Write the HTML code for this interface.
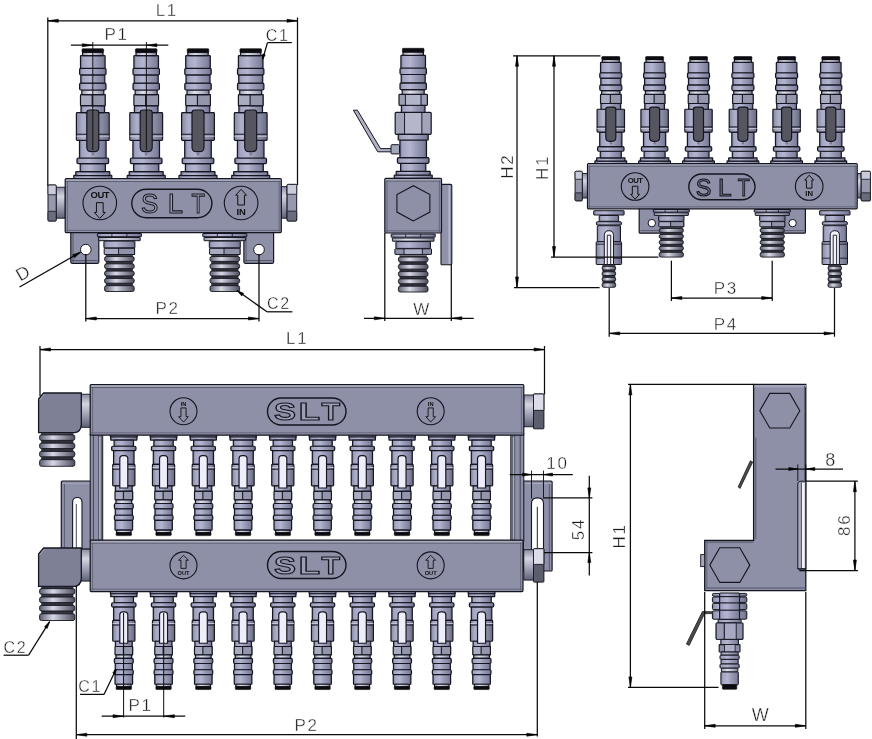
<!DOCTYPE html>
<html><head><meta charset="utf-8"><title>SLT manifold dimensions</title>
<style>
html,body{margin:0;padding:0;background:#fff;}
svg{display:block;font-family:"Liberation Sans",sans-serif;}
svg{will-change:transform;}
text.d{stroke:#fff;stroke-width:0.35px;letter-spacing:1.7px;}
</style></head><body>
<svg width="872" height="739" viewBox="0 0 872 739">
<rect x="0" y="0" width="872" height="739" fill="#ffffff"/>
<defs>
<linearGradient id="gv" x1="0" y1="0" x2="1" y2="0">
<stop offset="0" stop-color="#787a96"/><stop offset="0.1" stop-color="#a2a4c2"/>
<stop offset="0.38" stop-color="#b4b6d0"/><stop offset="0.6" stop-color="#9a9cb8"/>
<stop offset="0.9" stop-color="#80829e"/><stop offset="1" stop-color="#666882"/>
</linearGradient>
<linearGradient id="gl" x1="0" y1="0" x2="1" y2="0">
<stop offset="0" stop-color="#9a9cb2"/><stop offset="0.35" stop-color="#e0e1ea"/>
<stop offset="0.7" stop-color="#b6b8ca"/><stop offset="1" stop-color="#7c7e94"/>
</linearGradient>
<linearGradient id="gn" x1="0" y1="0" x2="1" y2="0">
<stop offset="0" stop-color="#8688a2"/><stop offset="0.2" stop-color="#aeb0ca"/>
<stop offset="0.5" stop-color="#9c9eb8"/><stop offset="0.8" stop-color="#86889f"/>
<stop offset="1" stop-color="#686a82"/>
</linearGradient>
<linearGradient id="gb" x1="0" y1="0" x2="1" y2="0">
<stop offset="0" stop-color="#5c5c6c"/><stop offset="0.16" stop-color="#9496a8"/>
<stop offset="0.38" stop-color="#d8d9e4"/><stop offset="0.6" stop-color="#a2a4b6"/>
<stop offset="0.85" stop-color="#70707e"/><stop offset="1" stop-color="#4c4c5a"/>
</linearGradient>
<linearGradient id="gh" x1="0" y1="0" x2="0" y2="1">
<stop offset="0" stop-color="#8a8ca2"/><stop offset="0.3" stop-color="#d4d5e0"/>
<stop offset="0.6" stop-color="#a2a4b8"/><stop offset="1" stop-color="#5e6074"/>
</linearGradient>
</defs>
<rect x="56.2" y="187.2" width="9" height="31" fill="url(#gh)" stroke="#161622" stroke-width="0.9"/>
<rect x="48" y="185" width="8.2" height="36" fill="#9698ae" stroke="#161622" stroke-width="1" rx="1"/>
<rect x="48" y="185" width="8.2" height="9.72" fill="#c9cada" stroke="#161622" stroke-width="0.8" rx="1"/>
<rect x="48" y="211.28" width="8.2" height="9.72" fill="#6a6c7e" stroke="#161622" stroke-width="0.8" rx="1"/>
<rect x="281.3" y="186.6" width="5.8" height="31.6" fill="url(#gh)" stroke="#161622" stroke-width="0.9"/>
<rect x="287.1" y="184.4" width="9.6" height="36.6" fill="#9698ae" stroke="#161622" stroke-width="1" rx="1"/>
<rect x="287.1" y="184.4" width="9.6" height="9.88" fill="#c9cada" stroke="#161622" stroke-width="0.8" rx="1"/>
<rect x="287.1" y="211.12" width="9.6" height="9.88" fill="#6a6c7e" stroke="#161622" stroke-width="0.8" rx="1"/>
<rect x="70.8" y="230" width="28" height="33.3" fill="#8e90a8" stroke="#161622" stroke-width="1.2" rx="1.2"/>
<line x1="71.8" y1="260.6" x2="97.8" y2="260.6" stroke="#4a4c5e" stroke-width="0.9"/>
<line x1="73" y1="232" x2="73" y2="262" stroke="#4a4c5e" stroke-width="0.8"/>
<circle cx="85.8" cy="249.6" r="5.3" fill="#fff" stroke="#161622" stroke-width="1"/>
<rect x="243.9" y="230" width="29.7" height="33.3" fill="#8e90a8" stroke="#161622" stroke-width="1.2" rx="1.2"/>
<line x1="244.9" y1="260.6" x2="272.6" y2="260.6" stroke="#4a4c5e" stroke-width="0.9"/>
<line x1="246.1" y1="232" x2="246.1" y2="262" stroke="#4a4c5e" stroke-width="0.8"/>
<circle cx="259" cy="249.6" r="5.3" fill="#fff" stroke="#161622" stroke-width="1"/>
<rect x="97.4" y="233.5" width="44" height="3.2" fill="url(#gv)" stroke="#161622" stroke-width="1" rx="0.3"/>
<line x1="111.9" y1="233.5" x2="111.9" y2="236.7" stroke="#161622" stroke-width="0.8"/>
<line x1="126.9" y1="233.5" x2="126.9" y2="236.7" stroke="#161622" stroke-width="0.8"/>
<rect x="98.6" y="237.5" width="41.6" height="3.2" fill="url(#gl)" stroke="#161622" stroke-width="1" rx="0.3"/>
<rect x="103.9" y="241.1" width="31" height="6.8" fill="url(#gv)" stroke="#161622" stroke-width="1" rx="0.5"/>
<rect x="104.2" y="248.3" width="30.4" height="6.2" fill="#a9abc0" stroke="#161622" stroke-width="1" rx="0.5"/>
<rect x="118.6" y="248.3" width="16" height="6.2" fill="#9092a8" stroke="#161622" stroke-width="0.9"/>
<rect x="106.08" y="255.1" width="26.64" height="34.4" fill="#32323e" stroke="#32323e" stroke-width="0.5"/>
<rect x="104.6" y="256.56" width="29.6" height="4.8" fill="url(#gb)" stroke="#16161e" stroke-width="0.9" rx="1.8"/>
<rect x="104.6" y="263.84" width="29.6" height="4.8" fill="url(#gb)" stroke="#16161e" stroke-width="0.9" rx="1.8"/>
<rect x="104.6" y="271.12" width="29.6" height="4.8" fill="url(#gb)" stroke="#16161e" stroke-width="0.9" rx="1.8"/>
<rect x="104.6" y="278.4" width="29.6" height="4.8" fill="url(#gb)" stroke="#16161e" stroke-width="0.9" rx="1.8"/>
<rect x="104.6" y="285.68" width="29.6" height="5.82" fill="url(#gb)" stroke="#16161e" stroke-width="0.9" rx="1.8"/>
<rect x="202.8" y="233.5" width="44" height="3.2" fill="url(#gv)" stroke="#161622" stroke-width="1" rx="0.3"/>
<line x1="217.3" y1="233.5" x2="217.3" y2="236.7" stroke="#161622" stroke-width="0.8"/>
<line x1="232.3" y1="233.5" x2="232.3" y2="236.7" stroke="#161622" stroke-width="0.8"/>
<rect x="204" y="237.5" width="41.6" height="3.2" fill="url(#gl)" stroke="#161622" stroke-width="1" rx="0.3"/>
<rect x="209.3" y="241.1" width="31" height="6.8" fill="url(#gv)" stroke="#161622" stroke-width="1" rx="0.5"/>
<rect x="209.6" y="248.3" width="30.4" height="6.2" fill="#a9abc0" stroke="#161622" stroke-width="1" rx="0.5"/>
<rect x="224" y="248.3" width="16" height="6.2" fill="#9092a8" stroke="#161622" stroke-width="0.9"/>
<rect x="211.48" y="255.1" width="26.64" height="34.4" fill="#32323e" stroke="#32323e" stroke-width="0.5"/>
<rect x="210" y="256.56" width="29.6" height="4.8" fill="url(#gb)" stroke="#16161e" stroke-width="0.9" rx="1.8"/>
<rect x="210" y="263.84" width="29.6" height="4.8" fill="url(#gb)" stroke="#16161e" stroke-width="0.9" rx="1.8"/>
<rect x="210" y="271.12" width="29.6" height="4.8" fill="url(#gb)" stroke="#16161e" stroke-width="0.9" rx="1.8"/>
<rect x="210" y="278.4" width="29.6" height="4.8" fill="url(#gb)" stroke="#16161e" stroke-width="0.9" rx="1.8"/>
<rect x="210" y="285.68" width="29.6" height="5.82" fill="url(#gb)" stroke="#16161e" stroke-width="0.9" rx="1.8"/>
<rect x="73.8" y="175.4" width="38" height="3.3" fill="url(#gv)" stroke="#161622" stroke-width="1.2" rx="0.3"/>
<rect x="75.8" y="171.7" width="34" height="3.9" fill="url(#gv)" stroke="#161622" stroke-width="1.2" rx="0.3"/>
<rect x="80.2" y="163.7" width="25.2" height="8" fill="url(#gv)" stroke="#161622" stroke-width="1.2" rx="0.6"/>
<rect x="77" y="158" width="31.6" height="5.7" fill="url(#gv)" stroke="#161622" stroke-width="1.2" rx="1.2"/>
<rect x="79.5" y="140.4" width="26.6" height="17.6" fill="url(#gv)" stroke="#161622" stroke-width="1.2" rx="0.6"/>
<rect x="76.4" y="112.7" width="32.8" height="27.7" fill="url(#gn)" stroke="#161622" stroke-width="1.2" rx="0.8"/>
<line x1="76.4" y1="134.2" x2="109.2" y2="134.2" stroke="#161622" stroke-width="1.08"/>
<line x1="76.4" y1="136.2" x2="109.2" y2="136.2" stroke="#c8c8d8" stroke-width="0.96"/>
<rect x="81" y="105.7" width="23.6" height="7" fill="url(#gv)" stroke="#161622" stroke-width="1.2" rx="0.6"/>
<rect x="80.5" y="94.7" width="24.6" height="11" fill="#a9abc0" stroke="#161622" stroke-width="1.2" rx="0.6"/>
<rect x="92.2" y="94.7" width="12.9" height="11" fill="#9496ac" stroke="#161622" stroke-width="1.08"/>
<rect x="81.8" y="90" width="22" height="4.7" fill="url(#gl)" stroke="#161622" stroke-width="1.2" rx="0.6"/>
<rect x="79.6" y="83.2" width="26.4" height="6.8" fill="url(#gv)" stroke="#161622" stroke-width="1.2" rx="1.2"/>
<rect x="80.8" y="74.9" width="24" height="8.3" fill="url(#gv)" stroke="#161622" stroke-width="1.2" rx="0.6"/>
<rect x="79.6" y="68.4" width="26.4" height="6.5" fill="url(#gv)" stroke="#161622" stroke-width="1.2" rx="1.2"/>
<rect x="80.5" y="55.7" width="24.6" height="12.7" fill="url(#gv)" stroke="#161622" stroke-width="1.2" rx="0.6"/>
<rect x="82.6" y="52.2" width="20.4" height="3.5" fill="url(#gl)" stroke="#161622" stroke-width="1.2" rx="0.6"/>
<rect x="82" y="48.7" width="21.6" height="3.9" fill="#0c0c10" stroke="#0c0c10" stroke-width="0.6" rx="0.8"/>
<path d="M86.8 112.7 Q86.8 110 89.5 110 L96.1 110 Q98.8 110 98.8 112.7 L98.8 147.2 Q98.8 151.7 94.3 151.7 L91.3 151.7 Q86.8 151.7 86.8 147.2 Z" fill="#55565f" stroke="#161622" stroke-width="1.2"/>
<circle cx="92.8" cy="154" r="0.9" fill="#ddd" stroke="#161622" stroke-width="0.5"/>
<rect x="127.2" y="175.4" width="38" height="3.3" fill="url(#gv)" stroke="#161622" stroke-width="1.2" rx="0.3"/>
<rect x="129.2" y="171.7" width="34" height="3.9" fill="url(#gv)" stroke="#161622" stroke-width="1.2" rx="0.3"/>
<rect x="133.6" y="163.7" width="25.2" height="8" fill="url(#gv)" stroke="#161622" stroke-width="1.2" rx="0.6"/>
<rect x="130.4" y="158" width="31.6" height="5.7" fill="url(#gv)" stroke="#161622" stroke-width="1.2" rx="1.2"/>
<rect x="132.9" y="140.4" width="26.6" height="17.6" fill="url(#gv)" stroke="#161622" stroke-width="1.2" rx="0.6"/>
<rect x="129.8" y="112.7" width="32.8" height="27.7" fill="url(#gn)" stroke="#161622" stroke-width="1.2" rx="0.8"/>
<line x1="129.8" y1="134.2" x2="162.6" y2="134.2" stroke="#161622" stroke-width="1.08"/>
<line x1="129.8" y1="136.2" x2="162.6" y2="136.2" stroke="#c8c8d8" stroke-width="0.96"/>
<rect x="134.4" y="105.7" width="23.6" height="7" fill="url(#gv)" stroke="#161622" stroke-width="1.2" rx="0.6"/>
<rect x="133.9" y="94.7" width="24.6" height="11" fill="#a9abc0" stroke="#161622" stroke-width="1.2" rx="0.6"/>
<rect x="145.6" y="94.7" width="12.9" height="11" fill="#9496ac" stroke="#161622" stroke-width="1.08"/>
<rect x="135.2" y="90" width="22" height="4.7" fill="url(#gl)" stroke="#161622" stroke-width="1.2" rx="0.6"/>
<rect x="133" y="83.2" width="26.4" height="6.8" fill="url(#gv)" stroke="#161622" stroke-width="1.2" rx="1.2"/>
<rect x="134.2" y="74.9" width="24" height="8.3" fill="url(#gv)" stroke="#161622" stroke-width="1.2" rx="0.6"/>
<rect x="133" y="68.4" width="26.4" height="6.5" fill="url(#gv)" stroke="#161622" stroke-width="1.2" rx="1.2"/>
<rect x="133.9" y="55.7" width="24.6" height="12.7" fill="url(#gv)" stroke="#161622" stroke-width="1.2" rx="0.6"/>
<rect x="136" y="52.2" width="20.4" height="3.5" fill="url(#gl)" stroke="#161622" stroke-width="1.2" rx="0.6"/>
<rect x="135.4" y="48.7" width="21.6" height="3.9" fill="#0c0c10" stroke="#0c0c10" stroke-width="0.6" rx="0.8"/>
<path d="M140.2 112.7 Q140.2 110 142.9 110 L149.5 110 Q152.2 110 152.2 112.7 L152.2 147.2 Q152.2 151.7 147.7 151.7 L144.7 151.7 Q140.2 151.7 140.2 147.2 Z" fill="#55565f" stroke="#161622" stroke-width="1.2"/>
<circle cx="146.2" cy="154" r="0.9" fill="#ddd" stroke="#161622" stroke-width="0.5"/>
<rect x="179" y="175.4" width="38" height="3.3" fill="url(#gv)" stroke="#161622" stroke-width="1.2" rx="0.3"/>
<rect x="181" y="171.7" width="34" height="3.9" fill="url(#gv)" stroke="#161622" stroke-width="1.2" rx="0.3"/>
<rect x="185.4" y="163.7" width="25.2" height="8" fill="url(#gv)" stroke="#161622" stroke-width="1.2" rx="0.6"/>
<rect x="182.2" y="158" width="31.6" height="5.7" fill="url(#gv)" stroke="#161622" stroke-width="1.2" rx="1.2"/>
<rect x="184.7" y="140.4" width="26.6" height="17.6" fill="url(#gv)" stroke="#161622" stroke-width="1.2" rx="0.6"/>
<rect x="181.6" y="112.7" width="32.8" height="27.7" fill="url(#gn)" stroke="#161622" stroke-width="1.2" rx="0.8"/>
<line x1="181.6" y1="134.2" x2="214.4" y2="134.2" stroke="#161622" stroke-width="1.08"/>
<line x1="181.6" y1="136.2" x2="214.4" y2="136.2" stroke="#c8c8d8" stroke-width="0.96"/>
<rect x="186.2" y="105.7" width="23.6" height="7" fill="url(#gv)" stroke="#161622" stroke-width="1.2" rx="0.6"/>
<rect x="185.7" y="94.7" width="24.6" height="11" fill="#a9abc0" stroke="#161622" stroke-width="1.2" rx="0.6"/>
<rect x="197.4" y="94.7" width="12.9" height="11" fill="#9496ac" stroke="#161622" stroke-width="1.08"/>
<rect x="187" y="90" width="22" height="4.7" fill="url(#gl)" stroke="#161622" stroke-width="1.2" rx="0.6"/>
<rect x="184.8" y="83.2" width="26.4" height="6.8" fill="url(#gv)" stroke="#161622" stroke-width="1.2" rx="1.2"/>
<rect x="186" y="74.9" width="24" height="8.3" fill="url(#gv)" stroke="#161622" stroke-width="1.2" rx="0.6"/>
<rect x="184.8" y="68.4" width="26.4" height="6.5" fill="url(#gv)" stroke="#161622" stroke-width="1.2" rx="1.2"/>
<rect x="185.7" y="55.7" width="24.6" height="12.7" fill="url(#gv)" stroke="#161622" stroke-width="1.2" rx="0.6"/>
<rect x="187.8" y="52.2" width="20.4" height="3.5" fill="url(#gl)" stroke="#161622" stroke-width="1.2" rx="0.6"/>
<rect x="187.2" y="48.7" width="21.6" height="3.9" fill="#0c0c10" stroke="#0c0c10" stroke-width="0.6" rx="0.8"/>
<path d="M192 112.7 Q192 110 194.7 110 L201.3 110 Q204 110 204 112.7 L204 147.2 Q204 151.7 199.5 151.7 L196.5 151.7 Q192 151.7 192 147.2 Z" fill="#55565f" stroke="#161622" stroke-width="1.2"/>
<circle cx="198" cy="154" r="0.9" fill="#ddd" stroke="#161622" stroke-width="0.5"/>
<rect x="231.7" y="175.4" width="38" height="3.3" fill="url(#gv)" stroke="#161622" stroke-width="1.2" rx="0.3"/>
<rect x="233.7" y="171.7" width="34" height="3.9" fill="url(#gv)" stroke="#161622" stroke-width="1.2" rx="0.3"/>
<rect x="238.1" y="163.7" width="25.2" height="8" fill="url(#gv)" stroke="#161622" stroke-width="1.2" rx="0.6"/>
<rect x="234.9" y="158" width="31.6" height="5.7" fill="url(#gv)" stroke="#161622" stroke-width="1.2" rx="1.2"/>
<rect x="237.4" y="140.4" width="26.6" height="17.6" fill="url(#gv)" stroke="#161622" stroke-width="1.2" rx="0.6"/>
<rect x="234.3" y="112.7" width="32.8" height="27.7" fill="url(#gn)" stroke="#161622" stroke-width="1.2" rx="0.8"/>
<line x1="234.3" y1="134.2" x2="267.1" y2="134.2" stroke="#161622" stroke-width="1.08"/>
<line x1="234.3" y1="136.2" x2="267.1" y2="136.2" stroke="#c8c8d8" stroke-width="0.96"/>
<rect x="238.9" y="105.7" width="23.6" height="7" fill="url(#gv)" stroke="#161622" stroke-width="1.2" rx="0.6"/>
<rect x="238.4" y="94.7" width="24.6" height="11" fill="#a9abc0" stroke="#161622" stroke-width="1.2" rx="0.6"/>
<rect x="250.1" y="94.7" width="12.9" height="11" fill="#9496ac" stroke="#161622" stroke-width="1.08"/>
<rect x="239.7" y="90" width="22" height="4.7" fill="url(#gl)" stroke="#161622" stroke-width="1.2" rx="0.6"/>
<rect x="237.5" y="83.2" width="26.4" height="6.8" fill="url(#gv)" stroke="#161622" stroke-width="1.2" rx="1.2"/>
<rect x="238.7" y="74.9" width="24" height="8.3" fill="url(#gv)" stroke="#161622" stroke-width="1.2" rx="0.6"/>
<rect x="237.5" y="68.4" width="26.4" height="6.5" fill="url(#gv)" stroke="#161622" stroke-width="1.2" rx="1.2"/>
<rect x="238.4" y="55.7" width="24.6" height="12.7" fill="url(#gv)" stroke="#161622" stroke-width="1.2" rx="0.6"/>
<rect x="240.5" y="52.2" width="20.4" height="3.5" fill="url(#gl)" stroke="#161622" stroke-width="1.2" rx="0.6"/>
<rect x="239.9" y="48.7" width="21.6" height="3.9" fill="#0c0c10" stroke="#0c0c10" stroke-width="0.6" rx="0.8"/>
<path d="M244.7 112.7 Q244.7 110 247.4 110 L254 110 Q256.7 110 256.7 112.7 L256.7 147.2 Q256.7 151.7 252.2 151.7 L249.2 151.7 Q244.7 151.7 244.7 147.2 Z" fill="#55565f" stroke="#161622" stroke-width="1.2"/>
<circle cx="250.7" cy="154" r="0.9" fill="#ddd" stroke="#161622" stroke-width="0.5"/>
<rect x="65.2" y="178.7" width="216.1" height="53.9" fill="#8e90a8" stroke="#161622" stroke-width="1.2" rx="1"/>
<rect x="66" y="179.5" width="214.5" height="2.2" fill="#a6a8ba" stroke="none" stroke-width="0"/>
<line x1="65.8" y1="181.5" x2="280.7" y2="181.5" stroke="#4a4c5e" stroke-width="0.8"/>
<line x1="67.4" y1="180.9" x2="67.4" y2="231.6" stroke="#5a5c70" stroke-width="0.8"/>
<line x1="279.1" y1="180.9" x2="279.1" y2="231.6" stroke="#5a5c70" stroke-width="0.8"/>
<line x1="65.8" y1="230.4" x2="280.7" y2="230.4" stroke="#5a5c70" stroke-width="0.8"/>
<circle cx="99.8" cy="203" r="16.8" fill="none" stroke="#15151f" stroke-width="1.1"/>
<text x="99.8" y="198.46" font-size="9.41" text-anchor="middle" fill="#111" font-weight="bold" letter-spacing="-0.5">OUT</text>
<path d="M96.44 202.66 L103.16 202.66 L103.16 212.46 L105.18 212.46 L99.8 218.46 L94.42 212.46 L96.44 212.46 Z" fill="none" stroke="#111" stroke-width="1"/>
<circle cx="241.1" cy="203" r="16.8" fill="none" stroke="#15151f" stroke-width="1.1"/>
<text x="241.1" y="215.1" font-size="9.41" text-anchor="middle" fill="#111" font-weight="bold">IN</text>
<path d="M237.74 205.02 L244.46 205.02 L244.46 195.22 L246.48 195.22 L241.1 189.22 L235.72 195.22 L237.74 195.22 Z" fill="none" stroke="#111" stroke-width="1"/>
<rect x="131.8" y="189.2" width="80.1" height="28.5" fill="none" stroke="#15151f" stroke-width="1.4" rx="14.25"/>
<text x="149.66" y="213.35" font-size="27.36" text-anchor="middle" fill="#9c9eb6" stroke="#15151f" stroke-width="1.05" transform="translate(149.66 0) scale(0.95 1) translate(-149.66 0)">S</text>
<text x="175.45" y="213.35" font-size="27.36" text-anchor="middle" fill="#9c9eb6" stroke="#15151f" stroke-width="1.05" transform="translate(175.45 0) scale(1 1) translate(-175.45 0)">L</text>
<text x="198.2" y="213.35" font-size="27.36" text-anchor="middle" fill="#9c9eb6" stroke="#15151f" stroke-width="1.05" transform="translate(198.2 0) scale(0.8 1) translate(-198.2 0)">T</text>
<line x1="47.8" y1="17.5" x2="47.8" y2="186" stroke="#0a0a0a" stroke-width="1.25"/>
<line x1="297.5" y1="17.5" x2="297.5" y2="185" stroke="#0a0a0a" stroke-width="1.25"/>
<line x1="47.8" y1="20.8" x2="297.5" y2="20.8" stroke="#0a0a0a" stroke-width="1.25"/>
<path d="M47.8 20.8 L58.3 19.3 L58.3 22.3 Z" fill="#000" stroke="#000" stroke-width="0.6"/>
<path d="M297.5 20.8 L287 22.3 L287 19.3 Z" fill="#000" stroke="#000" stroke-width="0.6"/>
<text x="166.8" y="16" font-size="17" text-anchor="middle" fill="#1c1c1c" font-weight="normal" class="d">L1</text>
<line x1="92.8" y1="42" x2="92.8" y2="150" stroke="#0a0a0a" stroke-width="0.9"/>
<line x1="146.4" y1="42" x2="146.4" y2="150" stroke="#0a0a0a" stroke-width="0.9"/>
<line x1="70.9" y1="45.2" x2="168.3" y2="45.2" stroke="#0a0a0a" stroke-width="1.25"/>
<path d="M92.8 45.2 L82.3 46.7 L82.3 43.7 Z" fill="#000" stroke="#000" stroke-width="0.6"/>
<path d="M146.4 45.2 L156.9 43.7 L156.9 46.7 Z" fill="#000" stroke="#000" stroke-width="0.6"/>
<text x="116.5" y="40.4" font-size="17" text-anchor="middle" fill="#1c1c1c" font-weight="normal" class="d">P1</text>
<text x="277.8" y="40.6" font-size="16" text-anchor="middle" fill="#1c1c1c" font-weight="normal" class="d">C1</text>
<line x1="267.5" y1="42.6" x2="291.8" y2="42.6" stroke="#0a0a0a" stroke-width="1.25"/>
<line x1="267.5" y1="42.6" x2="262.6" y2="59.3" stroke="#0a0a0a" stroke-width="1.25"/>
<path d="M262.6 59.3 L262.6 54.11 L265.3 54.86 Z" fill="#000" stroke="#000" stroke-width="0.6"/>
<line x1="19.5" y1="287" x2="80.5" y2="252.2" stroke="#0a0a0a" stroke-width="1.25"/>
<path d="M80.5 252.2 L74.46 257.75 L72.67 254.63 Z" fill="#000" stroke="#000" stroke-width="0.6"/>
<text x="26.6" y="278" font-size="18" text-anchor="middle" fill="#1c1c1c" font-weight="normal" transform="rotate(-30 26.6 278)" class="d">D</text>
<line x1="85.8" y1="254" x2="85.8" y2="321.5" stroke="#0a0a0a" stroke-width="1.25"/>
<line x1="259" y1="254" x2="259" y2="321.5" stroke="#0a0a0a" stroke-width="1.25"/>
<line x1="85.8" y1="318.5" x2="259" y2="318.5" stroke="#0a0a0a" stroke-width="1.25"/>
<path d="M85.8 318.5 L96.3 317 L96.3 320 Z" fill="#000" stroke="#000" stroke-width="0.6"/>
<path d="M259 318.5 L248.5 320 L248.5 317 Z" fill="#000" stroke="#000" stroke-width="0.6"/>
<text x="167.5" y="314.3" font-size="17" text-anchor="middle" fill="#1c1c1c" font-weight="normal" class="d">P2</text>
<text x="279" y="309.4" font-size="16" text-anchor="middle" fill="#1c1c1c" font-weight="normal" class="d">C2</text>
<line x1="267" y1="311.8" x2="292.4" y2="311.8" stroke="#0a0a0a" stroke-width="1.25"/>
<line x1="267" y1="311.8" x2="237" y2="290.6" stroke="#0a0a0a" stroke-width="1.25"/>
<path d="M237 290.6 L243.63 293.37 L241.77 295.97 Z" fill="#000" stroke="#000" stroke-width="0.6"/>
<rect x="441" y="184.4" width="10.8" height="80.3" fill="#9092aa" stroke="#161622" stroke-width="1.1" rx="1"/>
<line x1="449.2" y1="185.5" x2="449.2" y2="263.8" stroke="#b8bacb" stroke-width="1.4"/>
<rect x="391.2" y="234" width="44" height="3.2" fill="url(#gv)" stroke="#161622" stroke-width="1" rx="0.3"/>
<line x1="405.7" y1="234" x2="405.7" y2="237.2" stroke="#161622" stroke-width="0.8"/>
<line x1="420.7" y1="234" x2="420.7" y2="237.2" stroke="#161622" stroke-width="0.8"/>
<rect x="392.4" y="238" width="41.6" height="3.2" fill="url(#gl)" stroke="#161622" stroke-width="1" rx="0.3"/>
<rect x="395.9" y="241.6" width="34.6" height="6.8" fill="url(#gv)" stroke="#161622" stroke-width="1" rx="0.5"/>
<rect x="394.9" y="248.8" width="36.6" height="5.6" fill="#9092a8" stroke="#161622" stroke-width="1" rx="0.5"/>
<rect x="404.05" y="248.8" width="18.3" height="5.6" fill="#adafc6" stroke="#161622" stroke-width="0.9"/>
<rect x="399.88" y="255.6" width="26.64" height="34.4" fill="#32323e" stroke="#32323e" stroke-width="0.5"/>
<rect x="398.4" y="257.06" width="29.6" height="4.8" fill="url(#gb)" stroke="#16161e" stroke-width="0.9" rx="1.8"/>
<rect x="398.4" y="264.34" width="29.6" height="4.8" fill="url(#gb)" stroke="#16161e" stroke-width="0.9" rx="1.8"/>
<rect x="398.4" y="271.62" width="29.6" height="4.8" fill="url(#gb)" stroke="#16161e" stroke-width="0.9" rx="1.8"/>
<rect x="398.4" y="278.9" width="29.6" height="4.8" fill="url(#gb)" stroke="#16161e" stroke-width="0.9" rx="1.8"/>
<rect x="398.4" y="286.18" width="29.6" height="5.82" fill="url(#gb)" stroke="#16161e" stroke-width="0.9" rx="1.8"/>
<rect x="394.2" y="175" width="38" height="3.3" fill="url(#gv)" stroke="#161622" stroke-width="1.2" rx="0.3"/>
<rect x="396.2" y="171.3" width="34" height="3.9" fill="url(#gv)" stroke="#161622" stroke-width="1.2" rx="0.3"/>
<rect x="400.6" y="163.3" width="25.2" height="8" fill="url(#gv)" stroke="#161622" stroke-width="1.2" rx="0.6"/>
<rect x="397.4" y="157.6" width="31.6" height="5.7" fill="url(#gv)" stroke="#161622" stroke-width="1.2" rx="1.2"/>
<rect x="399.9" y="140" width="26.6" height="17.6" fill="url(#gv)" stroke="#161622" stroke-width="1.2" rx="0.6"/>
<rect x="395.2" y="112.3" width="36" height="22" fill="#a2a4ba" stroke="#161622" stroke-width="1.2" rx="1"/>
<rect x="404.56" y="112.3" width="17.28" height="22" fill="#b4b6ca" stroke="#161622" stroke-width="0.96"/>
<rect x="398.2" y="134.3" width="30" height="5.7" fill="url(#gv)" stroke="#161622" stroke-width="1.2" rx="0.6"/>
<rect x="401.4" y="105.3" width="23.6" height="7" fill="url(#gv)" stroke="#161622" stroke-width="1.2" rx="0.6"/>
<rect x="399" y="94.3" width="28.4" height="11" fill="#9c9eb4" stroke="#161622" stroke-width="1.2" rx="0.8"/>
<rect x="405.39" y="94.3" width="15.62" height="11" fill="#b2b4c8" stroke="#161622" stroke-width="0.96"/>
<rect x="402.2" y="89.6" width="22" height="4.7" fill="url(#gl)" stroke="#161622" stroke-width="1.2" rx="0.6"/>
<rect x="400" y="82.8" width="26.4" height="6.8" fill="url(#gv)" stroke="#161622" stroke-width="1.2" rx="1.2"/>
<rect x="401.2" y="74.5" width="24" height="8.3" fill="url(#gv)" stroke="#161622" stroke-width="1.2" rx="0.6"/>
<rect x="400" y="68" width="26.4" height="6.5" fill="url(#gv)" stroke="#161622" stroke-width="1.2" rx="1.2"/>
<rect x="400.9" y="55.3" width="24.6" height="12.7" fill="url(#gv)" stroke="#161622" stroke-width="1.2" rx="0.6"/>
<rect x="403" y="51.8" width="20.4" height="3.5" fill="url(#gl)" stroke="#161622" stroke-width="1.2" rx="0.6"/>
<rect x="402.4" y="48.3" width="21.6" height="3.9" fill="#0c0c10" stroke="#0c0c10" stroke-width="0.6" rx="0.8"/>
<path d="M353.4 110.2 L357.4 110.2 L380.5 148.6 L392 148.6 L392 151.8 L377.7 151.8 Z" fill="#b0b2c4" stroke="#161622" stroke-width="1"/>
<rect x="391" y="144.7" width="8.5" height="9.2" fill="#a4a6ba" stroke="#161622" stroke-width="1" rx="1"/>
<rect x="384.8" y="178.3" width="56.7" height="54.7" fill="#8e90a8" stroke="#161622" stroke-width="1.2" rx="1"/>
<rect x="385.6" y="179.1" width="55.1" height="2.2" fill="#a6a8ba" stroke="none" stroke-width="0"/>
<line x1="385.4" y1="181.1" x2="440.9" y2="181.1" stroke="#4a4c5e" stroke-width="0.8"/>
<line x1="387" y1="180.5" x2="387" y2="232" stroke="#5a5c70" stroke-width="0.8"/>
<line x1="439.3" y1="180.5" x2="439.3" y2="232" stroke="#5a5c70" stroke-width="0.8"/>
<line x1="385.4" y1="230.8" x2="440.9" y2="230.8" stroke="#5a5c70" stroke-width="0.8"/>
<polygon points="413.4,220.9 396.94,212.1 396.94,194.5 413.4,185.7 429.86,194.5 429.86,212.1" fill="none" stroke="#15151f" stroke-width="1.1"/>
<line x1="384.8" y1="233" x2="384.8" y2="321" stroke="#0a0a0a" stroke-width="1.25"/>
<line x1="451.3" y1="264.7" x2="451.3" y2="321" stroke="#0a0a0a" stroke-width="1.25"/>
<line x1="364" y1="318.3" x2="473.7" y2="318.3" stroke="#0a0a0a" stroke-width="1.25"/>
<path d="M384.8 318.3 L374.3 319.8 L374.3 316.8 Z" fill="#000" stroke="#000" stroke-width="0.6"/>
<path d="M451.3 318.3 L461.8 316.8 L461.8 319.8 Z" fill="#000" stroke="#000" stroke-width="0.6"/>
<text x="422" y="314.7" font-size="17" text-anchor="middle" fill="#1c1c1c" font-weight="normal" class="d">W</text>
<rect x="582.3" y="173.5" width="5.2" height="24.5" fill="url(#gh)" stroke="#161622" stroke-width="0.9"/>
<rect x="575.1" y="171.3" width="7.2" height="29.5" fill="#9698ae" stroke="#161622" stroke-width="1" rx="1"/>
<rect x="575.1" y="171.3" width="7.2" height="7.97" fill="#c9cada" stroke="#161622" stroke-width="0.8" rx="1"/>
<rect x="575.1" y="192.84" width="7.2" height="7.97" fill="#6a6c7e" stroke="#161622" stroke-width="0.8" rx="1"/>
<rect x="857.2" y="173.5" width="4" height="24.5" fill="url(#gh)" stroke="#161622" stroke-width="0.9"/>
<rect x="861.2" y="171.3" width="9.2" height="29.5" fill="#9698ae" stroke="#161622" stroke-width="1" rx="1"/>
<rect x="861.2" y="171.3" width="9.2" height="7.97" fill="#c9cada" stroke="#161622" stroke-width="0.8" rx="1"/>
<rect x="861.2" y="192.84" width="9.2" height="7.97" fill="#6a6c7e" stroke="#161622" stroke-width="0.8" rx="1"/>
<rect x="639.2" y="206" width="33" height="27.2" fill="#8e90a8" stroke="#161622" stroke-width="1.2" rx="1"/>
<rect x="772" y="206" width="33.4" height="27.2" fill="#8e90a8" stroke="#161622" stroke-width="1.2" rx="1"/>
<line x1="640.5" y1="230.6" x2="671" y2="230.6" stroke="#4a4c5e" stroke-width="0.8"/>
<line x1="773" y1="230.6" x2="804.5" y2="230.6" stroke="#4a4c5e" stroke-width="0.8"/>
<circle cx="651.8" cy="223.1" r="3.7" fill="#fff" stroke="#161622" stroke-width="1"/>
<circle cx="792.6" cy="223.1" r="3.7" fill="#fff" stroke="#161622" stroke-width="1"/>
<rect x="653.26" y="209.52" width="36.08" height="2.62" fill="url(#gv)" stroke="#161622" stroke-width="1" rx="0.3"/>
<line x1="665.15" y1="209.52" x2="665.15" y2="212.14" stroke="#161622" stroke-width="0.8"/>
<line x1="677.45" y1="209.52" x2="677.45" y2="212.14" stroke="#161622" stroke-width="0.8"/>
<rect x="654.24" y="212.8" width="34.11" height="2.62" fill="url(#gl)" stroke="#161622" stroke-width="1" rx="0.3"/>
<rect x="658.59" y="215.75" width="25.42" height="5.58" fill="url(#gv)" stroke="#161622" stroke-width="1" rx="0.5"/>
<rect x="658.84" y="221.66" width="24.93" height="5.08" fill="#a9abc0" stroke="#161622" stroke-width="1" rx="0.5"/>
<rect x="670.64" y="221.66" width="13.12" height="5.08" fill="#9092a8" stroke="#161622" stroke-width="0.9"/>
<rect x="660.38" y="227.23" width="21.84" height="27.85" fill="#32323e" stroke="#32323e" stroke-width="0.5"/>
<rect x="659.16" y="228.43" width="24.27" height="3.94" fill="url(#gb)" stroke="#16161e" stroke-width="0.9" rx="1.79"/>
<rect x="659.16" y="234.4" width="24.27" height="3.94" fill="url(#gb)" stroke="#16161e" stroke-width="0.9" rx="1.79"/>
<rect x="659.16" y="240.37" width="24.27" height="3.94" fill="url(#gb)" stroke="#16161e" stroke-width="0.9" rx="1.79"/>
<rect x="659.16" y="246.33" width="24.27" height="3.94" fill="url(#gb)" stroke="#16161e" stroke-width="0.9" rx="1.79"/>
<rect x="659.16" y="252.3" width="24.27" height="4.78" fill="url(#gb)" stroke="#16161e" stroke-width="0.9" rx="1.79"/>
<rect x="754.26" y="209.52" width="36.08" height="2.62" fill="url(#gv)" stroke="#161622" stroke-width="1" rx="0.3"/>
<line x1="766.15" y1="209.52" x2="766.15" y2="212.14" stroke="#161622" stroke-width="0.8"/>
<line x1="778.45" y1="209.52" x2="778.45" y2="212.14" stroke="#161622" stroke-width="0.8"/>
<rect x="755.24" y="212.8" width="34.11" height="2.62" fill="url(#gl)" stroke="#161622" stroke-width="1" rx="0.3"/>
<rect x="759.59" y="215.75" width="25.42" height="5.58" fill="url(#gv)" stroke="#161622" stroke-width="1" rx="0.5"/>
<rect x="759.84" y="221.66" width="24.93" height="5.08" fill="#a9abc0" stroke="#161622" stroke-width="1" rx="0.5"/>
<rect x="771.64" y="221.66" width="13.12" height="5.08" fill="#9092a8" stroke="#161622" stroke-width="0.9"/>
<rect x="761.38" y="227.23" width="21.84" height="27.85" fill="#32323e" stroke="#32323e" stroke-width="0.5"/>
<rect x="760.16" y="228.43" width="24.27" height="3.94" fill="url(#gb)" stroke="#16161e" stroke-width="0.9" rx="1.79"/>
<rect x="760.16" y="234.4" width="24.27" height="3.94" fill="url(#gb)" stroke="#16161e" stroke-width="0.9" rx="1.79"/>
<rect x="760.16" y="240.37" width="24.27" height="3.94" fill="url(#gb)" stroke="#16161e" stroke-width="0.9" rx="1.79"/>
<rect x="760.16" y="246.33" width="24.27" height="3.94" fill="url(#gb)" stroke="#16161e" stroke-width="0.9" rx="1.79"/>
<rect x="760.16" y="252.3" width="24.27" height="4.78" fill="url(#gb)" stroke="#16161e" stroke-width="0.9" rx="1.79"/>
<rect x="593.7" y="210.7" width="30.4" height="4.3" fill="url(#gv)" stroke="#161622" stroke-width="1" rx="0.4"/>
<rect x="599.2" y="215.5" width="19.4" height="5.8" fill="url(#gv)" stroke="#161622" stroke-width="1" rx="0.4"/>
<rect x="596.4" y="221.7" width="25" height="3.3" fill="url(#gv)" stroke="#161622" stroke-width="1" rx="1"/>
<rect x="597.3" y="225.7" width="23.2" height="16" fill="url(#gv)" stroke="#161622" stroke-width="1" rx="0.5"/>
<rect x="596.2" y="241.7" width="25.4" height="22.8" fill="url(#gn)" stroke="#161622" stroke-width="1" rx="0.8"/>
<line x1="596.2" y1="244.2" x2="621.6" y2="244.2" stroke="#161622" stroke-width="0.9"/>
<line x1="596.2" y1="258.2" x2="621.6" y2="258.2" stroke="#161622" stroke-width="0.9"/>
<rect x="602.78" y="265.2" width="12.24" height="20.1" fill="#32323e" stroke="#32323e" stroke-width="0.5"/>
<rect x="602.1" y="266.31" width="13.6" height="3.65" fill="url(#gb)" stroke="#16161e" stroke-width="0.9" rx="1.66"/>
<rect x="602.1" y="271.83" width="13.6" height="3.65" fill="url(#gb)" stroke="#16161e" stroke-width="0.9" rx="1.66"/>
<rect x="602.1" y="277.36" width="13.6" height="3.65" fill="url(#gb)" stroke="#16161e" stroke-width="0.9" rx="1.66"/>
<rect x="602.1" y="282.88" width="13.6" height="4.42" fill="url(#gb)" stroke="#16161e" stroke-width="0.9" rx="1.66"/>
<path d="M604.3 264.5 L604.3 235.3 Q604.3 230.7 608.9 230.7 Q613.5 230.7 613.5 235.3 L613.5 264.5 Z" fill="#f2f2fb" stroke="#161622" stroke-width="1"/>
<path d="M607.3 264.5 L607.3 235.2 L610.7 235.2" fill="none" stroke="#161622" stroke-width="0.9"/>
<line x1="610.7" y1="235.2" x2="610.7" y2="264.5" stroke="#161622" stroke-width="0.9"/>
<rect x="819.6" y="210.7" width="30.4" height="4.3" fill="url(#gv)" stroke="#161622" stroke-width="1" rx="0.4"/>
<rect x="825.1" y="215.5" width="19.4" height="5.8" fill="url(#gv)" stroke="#161622" stroke-width="1" rx="0.4"/>
<rect x="822.3" y="221.7" width="25" height="3.3" fill="url(#gv)" stroke="#161622" stroke-width="1" rx="1"/>
<rect x="823.2" y="225.7" width="23.2" height="16" fill="url(#gv)" stroke="#161622" stroke-width="1" rx="0.5"/>
<rect x="822.1" y="241.7" width="25.4" height="22.8" fill="url(#gn)" stroke="#161622" stroke-width="1" rx="0.8"/>
<line x1="822.1" y1="244.2" x2="847.5" y2="244.2" stroke="#161622" stroke-width="0.9"/>
<line x1="822.1" y1="258.2" x2="847.5" y2="258.2" stroke="#161622" stroke-width="0.9"/>
<rect x="828.68" y="265.2" width="12.24" height="20.1" fill="#32323e" stroke="#32323e" stroke-width="0.5"/>
<rect x="828" y="266.31" width="13.6" height="3.65" fill="url(#gb)" stroke="#16161e" stroke-width="0.9" rx="1.66"/>
<rect x="828" y="271.83" width="13.6" height="3.65" fill="url(#gb)" stroke="#16161e" stroke-width="0.9" rx="1.66"/>
<rect x="828" y="277.36" width="13.6" height="3.65" fill="url(#gb)" stroke="#16161e" stroke-width="0.9" rx="1.66"/>
<rect x="828" y="282.88" width="13.6" height="4.42" fill="url(#gb)" stroke="#16161e" stroke-width="0.9" rx="1.66"/>
<path d="M830.2 264.5 L830.2 235.3 Q830.2 230.7 834.8 230.7 Q839.4 230.7 839.4 235.3 L839.4 264.5 Z" fill="#f2f2fb" stroke="#161622" stroke-width="1"/>
<path d="M833.2 264.5 L833.2 235.2 L836.6 235.2" fill="none" stroke="#161622" stroke-width="0.9"/>
<line x1="836.6" y1="235.2" x2="836.6" y2="264.5" stroke="#161622" stroke-width="0.9"/>
<rect x="594.93" y="160.88" width="31.73" height="2.72" fill="url(#gv)" stroke="#161622" stroke-width="1.2" rx="0.3"/>
<rect x="596.6" y="157.84" width="28.39" height="3.21" fill="url(#gv)" stroke="#161622" stroke-width="1.2" rx="0.3"/>
<rect x="600.28" y="151.25" width="21.04" height="6.59" fill="url(#gv)" stroke="#161622" stroke-width="1.2" rx="0.6"/>
<rect x="597.61" y="146.55" width="26.39" height="4.69" fill="url(#gv)" stroke="#161622" stroke-width="1.2" rx="1.2"/>
<rect x="599.69" y="132.06" width="22.21" height="14.49" fill="url(#gv)" stroke="#161622" stroke-width="1.2" rx="0.6"/>
<rect x="597.11" y="109.25" width="27.39" height="22.81" fill="url(#gn)" stroke="#161622" stroke-width="1.2" rx="0.8"/>
<line x1="597.11" y1="126.95" x2="624.49" y2="126.95" stroke="#161622" stroke-width="1.08"/>
<line x1="597.11" y1="128.6" x2="624.49" y2="128.6" stroke="#c8c8d8" stroke-width="0.96"/>
<rect x="600.95" y="103.48" width="19.71" height="5.76" fill="url(#gv)" stroke="#161622" stroke-width="1.2" rx="0.6"/>
<rect x="600.53" y="94.43" width="20.54" height="9.06" fill="#a9abc0" stroke="#161622" stroke-width="1.2" rx="0.6"/>
<rect x="610.3" y="94.43" width="10.77" height="9.06" fill="#9496ac" stroke="#161622" stroke-width="1.08"/>
<rect x="601.62" y="90.56" width="18.37" height="3.87" fill="url(#gl)" stroke="#161622" stroke-width="1.2" rx="0.6"/>
<rect x="599.78" y="84.96" width="22.04" height="5.6" fill="url(#gv)" stroke="#161622" stroke-width="1.2" rx="1.2"/>
<rect x="600.78" y="78.12" width="20.04" height="6.84" fill="url(#gv)" stroke="#161622" stroke-width="1.2" rx="0.6"/>
<rect x="599.78" y="72.77" width="22.04" height="5.35" fill="url(#gv)" stroke="#161622" stroke-width="1.2" rx="1.2"/>
<rect x="600.53" y="62.31" width="20.54" height="10.46" fill="url(#gv)" stroke="#161622" stroke-width="1.2" rx="0.6"/>
<rect x="602.28" y="59.43" width="17.03" height="2.88" fill="url(#gl)" stroke="#161622" stroke-width="1.2" rx="0.6"/>
<rect x="601.78" y="56.54" width="18.04" height="3.21" fill="#0c0c10" stroke="#0c0c10" stroke-width="0.6" rx="0.8"/>
<path d="M605.79 109.28 Q605.79 107.03 608.04 107.03 L613.56 107.03 Q615.81 107.03 615.81 109.28 L615.81 137.61 Q615.81 141.37 612.05 141.37 L609.55 141.37 Q605.79 141.37 605.79 137.61 Z" fill="#55565f" stroke="#161622" stroke-width="1.2"/>
<circle cx="610.8" cy="143.26" r="0.75" fill="#ddd" stroke="#161622" stroke-width="0.5"/>
<rect x="638.74" y="160.88" width="31.73" height="2.72" fill="url(#gv)" stroke="#161622" stroke-width="1.2" rx="0.3"/>
<rect x="640.4" y="157.84" width="28.39" height="3.21" fill="url(#gv)" stroke="#161622" stroke-width="1.2" rx="0.3"/>
<rect x="644.08" y="151.25" width="21.04" height="6.59" fill="url(#gv)" stroke="#161622" stroke-width="1.2" rx="0.6"/>
<rect x="641.41" y="146.55" width="26.39" height="4.69" fill="url(#gv)" stroke="#161622" stroke-width="1.2" rx="1.2"/>
<rect x="643.49" y="132.06" width="22.21" height="14.49" fill="url(#gv)" stroke="#161622" stroke-width="1.2" rx="0.6"/>
<rect x="640.91" y="109.25" width="27.39" height="22.81" fill="url(#gn)" stroke="#161622" stroke-width="1.2" rx="0.8"/>
<line x1="640.91" y1="126.95" x2="668.29" y2="126.95" stroke="#161622" stroke-width="1.08"/>
<line x1="640.91" y1="128.6" x2="668.29" y2="128.6" stroke="#c8c8d8" stroke-width="0.96"/>
<rect x="644.75" y="103.48" width="19.71" height="5.76" fill="url(#gv)" stroke="#161622" stroke-width="1.2" rx="0.6"/>
<rect x="644.33" y="94.43" width="20.54" height="9.06" fill="#a9abc0" stroke="#161622" stroke-width="1.2" rx="0.6"/>
<rect x="654.1" y="94.43" width="10.77" height="9.06" fill="#9496ac" stroke="#161622" stroke-width="1.08"/>
<rect x="645.42" y="90.56" width="18.37" height="3.87" fill="url(#gl)" stroke="#161622" stroke-width="1.2" rx="0.6"/>
<rect x="643.58" y="84.96" width="22.04" height="5.6" fill="url(#gv)" stroke="#161622" stroke-width="1.2" rx="1.2"/>
<rect x="644.58" y="78.12" width="20.04" height="6.84" fill="url(#gv)" stroke="#161622" stroke-width="1.2" rx="0.6"/>
<rect x="643.58" y="72.77" width="22.04" height="5.35" fill="url(#gv)" stroke="#161622" stroke-width="1.2" rx="1.2"/>
<rect x="644.33" y="62.31" width="20.54" height="10.46" fill="url(#gv)" stroke="#161622" stroke-width="1.2" rx="0.6"/>
<rect x="646.08" y="59.43" width="17.03" height="2.88" fill="url(#gl)" stroke="#161622" stroke-width="1.2" rx="0.6"/>
<rect x="645.58" y="56.54" width="18.04" height="3.21" fill="#0c0c10" stroke="#0c0c10" stroke-width="0.6" rx="0.8"/>
<path d="M649.59 109.28 Q649.59 107.03 651.84 107.03 L657.36 107.03 Q659.61 107.03 659.61 109.28 L659.61 137.61 Q659.61 141.37 655.85 141.37 L653.35 141.37 Q649.59 141.37 649.59 137.61 Z" fill="#55565f" stroke="#161622" stroke-width="1.2"/>
<circle cx="654.6" cy="143.26" r="0.75" fill="#ddd" stroke="#161622" stroke-width="0.5"/>
<rect x="682.63" y="160.88" width="31.73" height="2.72" fill="url(#gv)" stroke="#161622" stroke-width="1.2" rx="0.3"/>
<rect x="684.3" y="157.84" width="28.39" height="3.21" fill="url(#gv)" stroke="#161622" stroke-width="1.2" rx="0.3"/>
<rect x="687.98" y="151.25" width="21.04" height="6.59" fill="url(#gv)" stroke="#161622" stroke-width="1.2" rx="0.6"/>
<rect x="685.31" y="146.55" width="26.39" height="4.69" fill="url(#gv)" stroke="#161622" stroke-width="1.2" rx="1.2"/>
<rect x="687.39" y="132.06" width="22.21" height="14.49" fill="url(#gv)" stroke="#161622" stroke-width="1.2" rx="0.6"/>
<rect x="684.81" y="109.25" width="27.39" height="22.81" fill="url(#gn)" stroke="#161622" stroke-width="1.2" rx="0.8"/>
<line x1="684.81" y1="126.95" x2="712.19" y2="126.95" stroke="#161622" stroke-width="1.08"/>
<line x1="684.81" y1="128.6" x2="712.19" y2="128.6" stroke="#c8c8d8" stroke-width="0.96"/>
<rect x="688.65" y="103.48" width="19.71" height="5.76" fill="url(#gv)" stroke="#161622" stroke-width="1.2" rx="0.6"/>
<rect x="688.23" y="94.43" width="20.54" height="9.06" fill="#a9abc0" stroke="#161622" stroke-width="1.2" rx="0.6"/>
<rect x="698" y="94.43" width="10.77" height="9.06" fill="#9496ac" stroke="#161622" stroke-width="1.08"/>
<rect x="689.32" y="90.56" width="18.37" height="3.87" fill="url(#gl)" stroke="#161622" stroke-width="1.2" rx="0.6"/>
<rect x="687.48" y="84.96" width="22.04" height="5.6" fill="url(#gv)" stroke="#161622" stroke-width="1.2" rx="1.2"/>
<rect x="688.48" y="78.12" width="20.04" height="6.84" fill="url(#gv)" stroke="#161622" stroke-width="1.2" rx="0.6"/>
<rect x="687.48" y="72.77" width="22.04" height="5.35" fill="url(#gv)" stroke="#161622" stroke-width="1.2" rx="1.2"/>
<rect x="688.23" y="62.31" width="20.54" height="10.46" fill="url(#gv)" stroke="#161622" stroke-width="1.2" rx="0.6"/>
<rect x="689.98" y="59.43" width="17.03" height="2.88" fill="url(#gl)" stroke="#161622" stroke-width="1.2" rx="0.6"/>
<rect x="689.48" y="56.54" width="18.04" height="3.21" fill="#0c0c10" stroke="#0c0c10" stroke-width="0.6" rx="0.8"/>
<path d="M693.49 109.28 Q693.49 107.03 695.74 107.03 L701.26 107.03 Q703.51 107.03 703.51 109.28 L703.51 137.61 Q703.51 141.37 699.75 141.37 L697.25 141.37 Q693.49 141.37 693.49 137.61 Z" fill="#55565f" stroke="#161622" stroke-width="1.2"/>
<circle cx="698.5" cy="143.26" r="0.75" fill="#ddd" stroke="#161622" stroke-width="0.5"/>
<rect x="727.03" y="160.88" width="31.73" height="2.72" fill="url(#gv)" stroke="#161622" stroke-width="1.2" rx="0.3"/>
<rect x="728.7" y="157.84" width="28.39" height="3.21" fill="url(#gv)" stroke="#161622" stroke-width="1.2" rx="0.3"/>
<rect x="732.38" y="151.25" width="21.04" height="6.59" fill="url(#gv)" stroke="#161622" stroke-width="1.2" rx="0.6"/>
<rect x="729.71" y="146.55" width="26.39" height="4.69" fill="url(#gv)" stroke="#161622" stroke-width="1.2" rx="1.2"/>
<rect x="731.79" y="132.06" width="22.21" height="14.49" fill="url(#gv)" stroke="#161622" stroke-width="1.2" rx="0.6"/>
<rect x="729.21" y="109.25" width="27.39" height="22.81" fill="url(#gn)" stroke="#161622" stroke-width="1.2" rx="0.8"/>
<line x1="729.21" y1="126.95" x2="756.59" y2="126.95" stroke="#161622" stroke-width="1.08"/>
<line x1="729.21" y1="128.6" x2="756.59" y2="128.6" stroke="#c8c8d8" stroke-width="0.96"/>
<rect x="733.05" y="103.48" width="19.71" height="5.76" fill="url(#gv)" stroke="#161622" stroke-width="1.2" rx="0.6"/>
<rect x="732.63" y="94.43" width="20.54" height="9.06" fill="#a9abc0" stroke="#161622" stroke-width="1.2" rx="0.6"/>
<rect x="742.4" y="94.43" width="10.77" height="9.06" fill="#9496ac" stroke="#161622" stroke-width="1.08"/>
<rect x="733.72" y="90.56" width="18.37" height="3.87" fill="url(#gl)" stroke="#161622" stroke-width="1.2" rx="0.6"/>
<rect x="731.88" y="84.96" width="22.04" height="5.6" fill="url(#gv)" stroke="#161622" stroke-width="1.2" rx="1.2"/>
<rect x="732.88" y="78.12" width="20.04" height="6.84" fill="url(#gv)" stroke="#161622" stroke-width="1.2" rx="0.6"/>
<rect x="731.88" y="72.77" width="22.04" height="5.35" fill="url(#gv)" stroke="#161622" stroke-width="1.2" rx="1.2"/>
<rect x="732.63" y="62.31" width="20.54" height="10.46" fill="url(#gv)" stroke="#161622" stroke-width="1.2" rx="0.6"/>
<rect x="734.38" y="59.43" width="17.03" height="2.88" fill="url(#gl)" stroke="#161622" stroke-width="1.2" rx="0.6"/>
<rect x="733.88" y="56.54" width="18.04" height="3.21" fill="#0c0c10" stroke="#0c0c10" stroke-width="0.6" rx="0.8"/>
<path d="M737.89 109.28 Q737.89 107.03 740.14 107.03 L745.66 107.03 Q747.91 107.03 747.91 109.28 L747.91 137.61 Q747.91 141.37 744.15 141.37 L741.65 141.37 Q737.89 141.37 737.89 137.61 Z" fill="#55565f" stroke="#161622" stroke-width="1.2"/>
<circle cx="742.9" cy="143.26" r="0.75" fill="#ddd" stroke="#161622" stroke-width="0.5"/>
<rect x="770.74" y="160.88" width="31.73" height="2.72" fill="url(#gv)" stroke="#161622" stroke-width="1.2" rx="0.3"/>
<rect x="772.4" y="157.84" width="28.39" height="3.21" fill="url(#gv)" stroke="#161622" stroke-width="1.2" rx="0.3"/>
<rect x="776.08" y="151.25" width="21.04" height="6.59" fill="url(#gv)" stroke="#161622" stroke-width="1.2" rx="0.6"/>
<rect x="773.41" y="146.55" width="26.39" height="4.69" fill="url(#gv)" stroke="#161622" stroke-width="1.2" rx="1.2"/>
<rect x="775.49" y="132.06" width="22.21" height="14.49" fill="url(#gv)" stroke="#161622" stroke-width="1.2" rx="0.6"/>
<rect x="772.91" y="109.25" width="27.39" height="22.81" fill="url(#gn)" stroke="#161622" stroke-width="1.2" rx="0.8"/>
<line x1="772.91" y1="126.95" x2="800.29" y2="126.95" stroke="#161622" stroke-width="1.08"/>
<line x1="772.91" y1="128.6" x2="800.29" y2="128.6" stroke="#c8c8d8" stroke-width="0.96"/>
<rect x="776.75" y="103.48" width="19.71" height="5.76" fill="url(#gv)" stroke="#161622" stroke-width="1.2" rx="0.6"/>
<rect x="776.33" y="94.43" width="20.54" height="9.06" fill="#a9abc0" stroke="#161622" stroke-width="1.2" rx="0.6"/>
<rect x="786.1" y="94.43" width="10.77" height="9.06" fill="#9496ac" stroke="#161622" stroke-width="1.08"/>
<rect x="777.42" y="90.56" width="18.37" height="3.87" fill="url(#gl)" stroke="#161622" stroke-width="1.2" rx="0.6"/>
<rect x="775.58" y="84.96" width="22.04" height="5.6" fill="url(#gv)" stroke="#161622" stroke-width="1.2" rx="1.2"/>
<rect x="776.58" y="78.12" width="20.04" height="6.84" fill="url(#gv)" stroke="#161622" stroke-width="1.2" rx="0.6"/>
<rect x="775.58" y="72.77" width="22.04" height="5.35" fill="url(#gv)" stroke="#161622" stroke-width="1.2" rx="1.2"/>
<rect x="776.33" y="62.31" width="20.54" height="10.46" fill="url(#gv)" stroke="#161622" stroke-width="1.2" rx="0.6"/>
<rect x="778.08" y="59.43" width="17.03" height="2.88" fill="url(#gl)" stroke="#161622" stroke-width="1.2" rx="0.6"/>
<rect x="777.58" y="56.54" width="18.04" height="3.21" fill="#0c0c10" stroke="#0c0c10" stroke-width="0.6" rx="0.8"/>
<path d="M781.59 109.28 Q781.59 107.03 783.84 107.03 L789.36 107.03 Q791.61 107.03 791.61 109.28 L791.61 137.61 Q791.61 141.37 787.85 141.37 L785.35 141.37 Q781.59 141.37 781.59 137.61 Z" fill="#55565f" stroke="#161622" stroke-width="1.2"/>
<circle cx="786.6" cy="143.26" r="0.75" fill="#ddd" stroke="#161622" stroke-width="0.5"/>
<rect x="814.93" y="160.88" width="31.73" height="2.72" fill="url(#gv)" stroke="#161622" stroke-width="1.2" rx="0.3"/>
<rect x="816.6" y="157.84" width="28.39" height="3.21" fill="url(#gv)" stroke="#161622" stroke-width="1.2" rx="0.3"/>
<rect x="820.28" y="151.25" width="21.04" height="6.59" fill="url(#gv)" stroke="#161622" stroke-width="1.2" rx="0.6"/>
<rect x="817.61" y="146.55" width="26.39" height="4.69" fill="url(#gv)" stroke="#161622" stroke-width="1.2" rx="1.2"/>
<rect x="819.69" y="132.06" width="22.21" height="14.49" fill="url(#gv)" stroke="#161622" stroke-width="1.2" rx="0.6"/>
<rect x="817.11" y="109.25" width="27.39" height="22.81" fill="url(#gn)" stroke="#161622" stroke-width="1.2" rx="0.8"/>
<line x1="817.11" y1="126.95" x2="844.49" y2="126.95" stroke="#161622" stroke-width="1.08"/>
<line x1="817.11" y1="128.6" x2="844.49" y2="128.6" stroke="#c8c8d8" stroke-width="0.96"/>
<rect x="820.95" y="103.48" width="19.71" height="5.76" fill="url(#gv)" stroke="#161622" stroke-width="1.2" rx="0.6"/>
<rect x="820.53" y="94.43" width="20.54" height="9.06" fill="#a9abc0" stroke="#161622" stroke-width="1.2" rx="0.6"/>
<rect x="830.3" y="94.43" width="10.77" height="9.06" fill="#9496ac" stroke="#161622" stroke-width="1.08"/>
<rect x="821.62" y="90.56" width="18.37" height="3.87" fill="url(#gl)" stroke="#161622" stroke-width="1.2" rx="0.6"/>
<rect x="819.78" y="84.96" width="22.04" height="5.6" fill="url(#gv)" stroke="#161622" stroke-width="1.2" rx="1.2"/>
<rect x="820.78" y="78.12" width="20.04" height="6.84" fill="url(#gv)" stroke="#161622" stroke-width="1.2" rx="0.6"/>
<rect x="819.78" y="72.77" width="22.04" height="5.35" fill="url(#gv)" stroke="#161622" stroke-width="1.2" rx="1.2"/>
<rect x="820.53" y="62.31" width="20.54" height="10.46" fill="url(#gv)" stroke="#161622" stroke-width="1.2" rx="0.6"/>
<rect x="822.28" y="59.43" width="17.03" height="2.88" fill="url(#gl)" stroke="#161622" stroke-width="1.2" rx="0.6"/>
<rect x="821.78" y="56.54" width="18.04" height="3.21" fill="#0c0c10" stroke="#0c0c10" stroke-width="0.6" rx="0.8"/>
<path d="M825.79 109.28 Q825.79 107.03 828.04 107.03 L833.56 107.03 Q835.81 107.03 835.81 109.28 L835.81 137.61 Q835.81 141.37 832.05 141.37 L829.55 141.37 Q825.79 141.37 825.79 137.61 Z" fill="#55565f" stroke="#161622" stroke-width="1.2"/>
<circle cx="830.8" cy="143.26" r="0.75" fill="#ddd" stroke="#161622" stroke-width="0.5"/>
<rect x="587.5" y="163.6" width="269.7" height="45.2" fill="#8e90a8" stroke="#161622" stroke-width="1.2" rx="1"/>
<rect x="588.3" y="164.4" width="268.1" height="2" fill="#a6a8ba" stroke="none" stroke-width="0"/>
<line x1="588.1" y1="166.2" x2="856.6" y2="166.2" stroke="#4a4c5e" stroke-width="0.8"/>
<line x1="589.5" y1="165.6" x2="589.5" y2="207.8" stroke="#5a5c70" stroke-width="0.8"/>
<line x1="855.2" y1="165.6" x2="855.2" y2="207.8" stroke="#5a5c70" stroke-width="0.8"/>
<line x1="588.1" y1="206.8" x2="856.6" y2="206.8" stroke="#5a5c70" stroke-width="0.8"/>
<circle cx="635.1" cy="186.5" r="13.8" fill="none" stroke="#15151f" stroke-width="1.1"/>
<text x="635.1" y="182.77" font-size="7.73" text-anchor="middle" fill="#111" font-weight="bold" letter-spacing="-0.5">OUT</text>
<path d="M632.34 186.22 L637.86 186.22 L637.86 194.27 L639.52 194.27 L635.1 199.2 L630.68 194.27 L632.34 194.27 Z" fill="none" stroke="#111" stroke-width="1"/>
<circle cx="809.2" cy="186.5" r="13.8" fill="none" stroke="#15151f" stroke-width="1.1"/>
<text x="809.2" y="196.44" font-size="7.73" text-anchor="middle" fill="#111" font-weight="bold">IN</text>
<path d="M806.44 188.16 L811.96 188.16 L811.96 180.11 L813.62 180.11 L809.2 175.18 L804.78 180.11 L806.44 180.11 Z" fill="none" stroke="#111" stroke-width="1"/>
<rect x="688.8" y="174" width="66.2" height="25.7" fill="none" stroke="#15151f" stroke-width="1.4" rx="12.85"/>
<text x="703.56" y="195.78" font-size="24.67" text-anchor="middle" fill="#6e708a" stroke="#15151f" stroke-width="1.05" transform="translate(703.56 0) scale(0.95 1) translate(-703.56 0)">S</text>
<text x="724.88" y="195.78" font-size="24.67" text-anchor="middle" fill="#6e708a" stroke="#15151f" stroke-width="1.05" transform="translate(724.88 0) scale(1 1) translate(-724.88 0)">L</text>
<text x="743.68" y="195.78" font-size="24.67" text-anchor="middle" fill="#6e708a" stroke="#15151f" stroke-width="1.05" transform="translate(743.68 0) scale(0.8 1) translate(-743.68 0)">T</text>
<line x1="513" y1="55.8" x2="600.5" y2="55.8" stroke="#0a0a0a" stroke-width="1.25"/>
<line x1="517" y1="55.8" x2="517" y2="287.4" stroke="#0a0a0a" stroke-width="1.25"/>
<path d="M517 55.8 L518.5 66.3 L515.5 66.3 Z" fill="#000" stroke="#000" stroke-width="0.6"/>
<path d="M517 287.4 L515.5 276.9 L518.5 276.9 Z" fill="#000" stroke="#000" stroke-width="0.6"/>
<line x1="554" y1="55.8" x2="554" y2="257" stroke="#0a0a0a" stroke-width="1.25"/>
<path d="M554 55.8 L555.5 66.3 L552.5 66.3 Z" fill="#000" stroke="#000" stroke-width="0.6"/>
<path d="M554 257 L552.5 246.5 L555.5 246.5 Z" fill="#000" stroke="#000" stroke-width="0.6"/>
<line x1="551" y1="257" x2="658.5" y2="257" stroke="#0a0a0a" stroke-width="1.25"/>
<line x1="514" y1="287.5" x2="599.6" y2="287.5" stroke="#0a0a0a" stroke-width="1.25"/>
<text x="512.6" y="166.2" font-size="17" text-anchor="middle" fill="#1c1c1c" font-weight="normal" transform="rotate(-90 512.6 166.2)" class="d">H2</text>
<text x="548.4" y="167.4" font-size="17" text-anchor="middle" fill="#1c1c1c" font-weight="normal" transform="rotate(-90 548.4 167.4)" class="d">H1</text>
<line x1="671.4" y1="260.7" x2="671.4" y2="301" stroke="#0a0a0a" stroke-width="1.25"/>
<line x1="772.2" y1="260.7" x2="772.2" y2="301" stroke="#0a0a0a" stroke-width="1.25"/>
<line x1="671.4" y1="298" x2="772.2" y2="298" stroke="#0a0a0a" stroke-width="1.25"/>
<path d="M671.4 298 L681.9 296.5 L681.9 299.5 Z" fill="#000" stroke="#000" stroke-width="0.6"/>
<path d="M772.2 298 L761.7 299.5 L761.7 296.5 Z" fill="#000" stroke="#000" stroke-width="0.6"/>
<text x="725.8" y="294.3" font-size="17" text-anchor="middle" fill="#1c1c1c" font-weight="normal" class="d">P3</text>
<line x1="609.2" y1="288" x2="609.2" y2="336.7" stroke="#0a0a0a" stroke-width="1.25"/>
<line x1="834.5" y1="288" x2="834.5" y2="336.7" stroke="#0a0a0a" stroke-width="1.25"/>
<line x1="609.2" y1="333.4" x2="834.5" y2="333.4" stroke="#0a0a0a" stroke-width="1.25"/>
<path d="M609.2 333.4 L619.7 331.9 L619.7 334.9 Z" fill="#000" stroke="#000" stroke-width="0.6"/>
<path d="M834.5 333.4 L824 334.9 L824 331.9 Z" fill="#000" stroke="#000" stroke-width="0.6"/>
<text x="725.8" y="330" font-size="17" text-anchor="middle" fill="#1c1c1c" font-weight="normal" class="d">P4</text>
<rect x="61.3" y="481" width="29.5" height="68" fill="#8e90a8" stroke="#161622" stroke-width="1.2" rx="1"/>
<line x1="64.4" y1="483" x2="64.4" y2="548" stroke="#4a4c5e" stroke-width="0.8"/>
<line x1="62.5" y1="483.6" x2="90" y2="483.6" stroke="#a6a8ba" stroke-width="1"/>
<path d="M72.6 549 L72.6 502.5 Q72.6 497.5 77.3 497.5 Q82 497.5 82 502.5 L82 549" fill="#fff" stroke="#161622" stroke-width="1.1"/>
<line x1="76.3" y1="504" x2="76.3" y2="549" stroke="#33343f" stroke-width="0.9"/>
<rect x="523.4" y="481" width="28.7" height="90" fill="#8e90a8" stroke="#161622" stroke-width="1.2" rx="1"/>
<line x1="549.3" y1="483" x2="549.3" y2="570" stroke="#4a4c5e" stroke-width="0.8"/>
<line x1="524" y1="483.6" x2="551.5" y2="483.6" stroke="#a6a8ba" stroke-width="1"/>
<path d="M531.5 550 L531.5 503.5 Q531.5 497.9 537.5 497.9 Q543.5 497.9 543.5 503.5 L543.5 550" fill="#fff" stroke="#161622" stroke-width="1.1"/>
<rect x="90.2" y="434" width="12.5" height="107" fill="#8e90a8" stroke="#161622" stroke-width="1"/>
<line x1="93.4" y1="434" x2="93.4" y2="541" stroke="#3a3c4c" stroke-width="0.9"/>
<rect x="98.6" y="436" width="2.6" height="104" fill="#a8aabc" stroke="#3a3c4c" stroke-width="0.7"/>
<rect x="510.8" y="434" width="13" height="107" fill="#8e90a8" stroke="#161622" stroke-width="1"/>
<rect x="512.2" y="436" width="2.6" height="104" fill="#a8aabc" stroke="#3a3c4c" stroke-width="0.7"/>
<line x1="520.2" y1="434" x2="520.2" y2="541" stroke="#3a3c4c" stroke-width="0.9"/>
<rect x="80.5" y="394.2" width="10" height="33.1" fill="url(#gh)" stroke="#161622" stroke-width="0.9"/>
<path d="M38.6 399 L43.6 393 L81.3 393 L81.3 425.1 Q80.8 431.6 74.8 432.6 L38.6 432.6 Z" fill="#7e8096" stroke="#161622" stroke-width="1.3"/>
<line x1="39.6" y1="400" x2="44.1" y2="394.2" stroke="#a8aabc" stroke-width="0.9"/>
<rect x="41.36" y="433.2" width="31.68" height="31.1" fill="#32323e" stroke="#32323e" stroke-width="0.5"/>
<rect x="39.6" y="434.86" width="35.2" height="5.46" fill="url(#gb)" stroke="#16161e" stroke-width="0.9" rx="1.8"/>
<rect x="39.6" y="443.13" width="35.2" height="5.46" fill="url(#gb)" stroke="#16161e" stroke-width="0.9" rx="1.8"/>
<rect x="39.6" y="451.4" width="35.2" height="5.46" fill="url(#gb)" stroke="#16161e" stroke-width="0.9" rx="1.8"/>
<rect x="39.6" y="459.68" width="35.2" height="6.62" fill="url(#gb)" stroke="#16161e" stroke-width="0.9" rx="1.8"/>
<rect x="80.5" y="549.2" width="10" height="31.9" fill="url(#gh)" stroke="#161622" stroke-width="0.9"/>
<path d="M38.6 554 L43.6 548 L81.3 548 L81.3 578.9 Q80.8 585.4 74.8 586.4 L38.6 586.4 Z" fill="#7e8096" stroke="#161622" stroke-width="1.3"/>
<line x1="39.6" y1="555" x2="44.1" y2="549.2" stroke="#a8aabc" stroke-width="0.9"/>
<rect x="41.36" y="587" width="31.68" height="31.5" fill="#32323e" stroke="#32323e" stroke-width="0.5"/>
<rect x="39.6" y="588.67" width="35.2" height="5.53" fill="url(#gb)" stroke="#16161e" stroke-width="0.9" rx="1.8"/>
<rect x="39.6" y="597.05" width="35.2" height="5.53" fill="url(#gb)" stroke="#16161e" stroke-width="0.9" rx="1.8"/>
<rect x="39.6" y="605.42" width="35.2" height="5.53" fill="url(#gb)" stroke="#16161e" stroke-width="0.9" rx="1.8"/>
<rect x="39.6" y="613.8" width="35.2" height="6.7" fill="url(#gb)" stroke="#16161e" stroke-width="0.9" rx="1.8"/>
<rect x="523.8" y="395" width="9.7" height="31.8" fill="url(#gh)" stroke="#161622" stroke-width="0.9"/>
<rect x="533.5" y="394" width="10.4" height="34.8" fill="#5c5e6e" stroke="#161622" stroke-width="1" rx="0.8"/>
<rect x="533.5" y="394" width="10.4" height="16.36" fill="#dcdde8" stroke="#161622" stroke-width="0.9" rx="0.8"/>
<rect x="523.8" y="549.7" width="9.7" height="30.4" fill="url(#gh)" stroke="#161622" stroke-width="0.9"/>
<rect x="533.5" y="548.7" width="10.4" height="33.4" fill="#5c5e6e" stroke="#161622" stroke-width="1" rx="0.8"/>
<rect x="533.5" y="548.7" width="10.4" height="15.7" fill="#dcdde8" stroke="#161622" stroke-width="0.9" rx="0.8"/>
<rect x="110.4" y="434.6" width="26.8" height="2.56" fill="url(#gv)" stroke="#161622" stroke-width="1.2" rx="0.3"/>
<rect x="110.71" y="437.01" width="26.18" height="3.03" fill="url(#gv)" stroke="#161622" stroke-width="1.2" rx="0.3"/>
<rect x="114.1" y="440.04" width="19.4" height="6.22" fill="url(#gv)" stroke="#161622" stroke-width="1.2" rx="0.6"/>
<rect x="111.63" y="446.25" width="24.33" height="4.43" fill="url(#gv)" stroke="#161622" stroke-width="1.2" rx="1.2"/>
<rect x="113.56" y="450.68" width="20.48" height="13.68" fill="url(#gv)" stroke="#161622" stroke-width="1.2" rx="0.6"/>
<rect x="112.71" y="464.36" width="22.18" height="21.52" fill="url(#gn)" stroke="#161622" stroke-width="1.2" rx="0.8"/>
<line x1="112.71" y1="469.18" x2="134.89" y2="469.18" stroke="#161622" stroke-width="1.08"/>
<line x1="112.71" y1="467.62" x2="134.89" y2="467.62" stroke="#c8c8d8" stroke-width="0.96"/>
<rect x="115.36" y="485.88" width="16.87" height="5.44" fill="url(#gv)" stroke="#161622" stroke-width="1.2" rx="0.6"/>
<rect x="115.01" y="491.32" width="17.59" height="8.55" fill="#a9abc0" stroke="#161622" stroke-width="1.2" rx="0.6"/>
<rect x="123.37" y="491.32" width="9.22" height="8.55" fill="#9496ac" stroke="#161622" stroke-width="1.08"/>
<rect x="115.94" y="499.87" width="15.73" height="3.65" fill="url(#gl)" stroke="#161622" stroke-width="1.2" rx="0.6"/>
<rect x="114.36" y="503.52" width="18.88" height="5.28" fill="url(#gv)" stroke="#161622" stroke-width="1.2" rx="1.2"/>
<rect x="115.22" y="508.8" width="17.16" height="6.45" fill="url(#gv)" stroke="#161622" stroke-width="1.2" rx="0.6"/>
<rect x="114.36" y="515.25" width="18.88" height="5.05" fill="url(#gv)" stroke="#161622" stroke-width="1.2" rx="1.2"/>
<rect x="115.01" y="520.3" width="17.59" height="9.87" fill="url(#gv)" stroke="#161622" stroke-width="1.2" rx="0.6"/>
<rect x="116.51" y="530.17" width="14.59" height="2.72" fill="url(#gl)" stroke="#161622" stroke-width="1.2" rx="0.6"/>
<rect x="116.08" y="532.58" width="15.44" height="3.03" fill="#0c0c10" stroke="#0c0c10" stroke-width="0.6" rx="0.8"/>
<path d="M119.8 487.98 L119.8 458.58 Q119.8 455.58 122.8 455.58 L124.8 455.58 Q127.8 455.58 127.8 458.58 L127.8 487.98 Z" fill="#eeeefa" stroke="#161622" stroke-width="1.2"/>
<rect x="110.4" y="591.4" width="26.8" height="2.49" fill="url(#gv)" stroke="#161622" stroke-width="1.2" rx="0.3"/>
<rect x="110.71" y="593.74" width="26.18" height="2.94" fill="url(#gv)" stroke="#161622" stroke-width="1.2" rx="0.3"/>
<rect x="114.1" y="596.68" width="19.4" height="6.04" fill="url(#gv)" stroke="#161622" stroke-width="1.2" rx="0.6"/>
<rect x="111.63" y="602.73" width="24.33" height="4.3" fill="url(#gv)" stroke="#161622" stroke-width="1.2" rx="1.2"/>
<rect x="113.56" y="607.03" width="20.48" height="13.29" fill="url(#gv)" stroke="#161622" stroke-width="1.2" rx="0.6"/>
<rect x="112.71" y="620.32" width="22.18" height="20.91" fill="url(#gn)" stroke="#161622" stroke-width="1.2" rx="0.8"/>
<line x1="112.71" y1="625" x2="134.89" y2="625" stroke="#161622" stroke-width="1.08"/>
<line x1="112.71" y1="623.49" x2="134.89" y2="623.49" stroke="#c8c8d8" stroke-width="0.96"/>
<rect x="115.36" y="641.23" width="16.87" height="5.28" fill="url(#gv)" stroke="#161622" stroke-width="1.2" rx="0.6"/>
<rect x="115.01" y="646.51" width="17.59" height="8.3" fill="#a9abc0" stroke="#161622" stroke-width="1.2" rx="0.6"/>
<rect x="123.37" y="646.51" width="9.22" height="8.3" fill="#9496ac" stroke="#161622" stroke-width="1.08"/>
<rect x="115.94" y="654.82" width="15.73" height="3.55" fill="url(#gl)" stroke="#161622" stroke-width="1.2" rx="0.6"/>
<rect x="114.36" y="658.37" width="18.88" height="5.13" fill="url(#gv)" stroke="#161622" stroke-width="1.2" rx="1.2"/>
<rect x="115.22" y="663.5" width="17.16" height="6.27" fill="url(#gv)" stroke="#161622" stroke-width="1.2" rx="0.6"/>
<rect x="114.36" y="669.77" width="18.88" height="4.91" fill="url(#gv)" stroke="#161622" stroke-width="1.2" rx="1.2"/>
<rect x="115.01" y="674.68" width="17.59" height="9.59" fill="url(#gv)" stroke="#161622" stroke-width="1.2" rx="0.6"/>
<rect x="116.51" y="684.26" width="14.59" height="2.64" fill="url(#gl)" stroke="#161622" stroke-width="1.2" rx="0.6"/>
<rect x="116.08" y="686.61" width="15.44" height="2.94" fill="#0c0c10" stroke="#0c0c10" stroke-width="0.6" rx="0.8"/>
<path d="M119.8 643.27 L119.8 614.79 Q119.8 611.78 122.8 611.78 L124.8 611.78 Q127.8 611.78 127.8 614.79 L127.8 643.27 Z" fill="#eeeefa" stroke="#161622" stroke-width="1.2"/>
<rect x="150.15" y="434.6" width="26.8" height="2.56" fill="url(#gv)" stroke="#161622" stroke-width="1.2" rx="0.3"/>
<rect x="150.46" y="437.01" width="26.18" height="3.03" fill="url(#gv)" stroke="#161622" stroke-width="1.2" rx="0.3"/>
<rect x="153.85" y="440.04" width="19.4" height="6.22" fill="url(#gv)" stroke="#161622" stroke-width="1.2" rx="0.6"/>
<rect x="151.38" y="446.25" width="24.33" height="4.43" fill="url(#gv)" stroke="#161622" stroke-width="1.2" rx="1.2"/>
<rect x="153.31" y="450.68" width="20.48" height="13.68" fill="url(#gv)" stroke="#161622" stroke-width="1.2" rx="0.6"/>
<rect x="152.46" y="464.36" width="22.18" height="21.52" fill="url(#gn)" stroke="#161622" stroke-width="1.2" rx="0.8"/>
<line x1="152.46" y1="469.18" x2="174.64" y2="469.18" stroke="#161622" stroke-width="1.08"/>
<line x1="152.46" y1="467.62" x2="174.64" y2="467.62" stroke="#c8c8d8" stroke-width="0.96"/>
<rect x="155.11" y="485.88" width="16.87" height="5.44" fill="url(#gv)" stroke="#161622" stroke-width="1.2" rx="0.6"/>
<rect x="154.76" y="491.32" width="17.59" height="8.55" fill="#a9abc0" stroke="#161622" stroke-width="1.2" rx="0.6"/>
<rect x="163.12" y="491.32" width="9.22" height="8.55" fill="#9496ac" stroke="#161622" stroke-width="1.08"/>
<rect x="155.69" y="499.87" width="15.73" height="3.65" fill="url(#gl)" stroke="#161622" stroke-width="1.2" rx="0.6"/>
<rect x="154.11" y="503.52" width="18.88" height="5.28" fill="url(#gv)" stroke="#161622" stroke-width="1.2" rx="1.2"/>
<rect x="154.97" y="508.8" width="17.16" height="6.45" fill="url(#gv)" stroke="#161622" stroke-width="1.2" rx="0.6"/>
<rect x="154.11" y="515.25" width="18.88" height="5.05" fill="url(#gv)" stroke="#161622" stroke-width="1.2" rx="1.2"/>
<rect x="154.76" y="520.3" width="17.59" height="9.87" fill="url(#gv)" stroke="#161622" stroke-width="1.2" rx="0.6"/>
<rect x="156.26" y="530.17" width="14.59" height="2.72" fill="url(#gl)" stroke="#161622" stroke-width="1.2" rx="0.6"/>
<rect x="155.83" y="532.58" width="15.44" height="3.03" fill="#0c0c10" stroke="#0c0c10" stroke-width="0.6" rx="0.8"/>
<path d="M159.55 487.98 L159.55 458.58 Q159.55 455.58 162.55 455.58 L164.55 455.58 Q167.55 455.58 167.55 458.58 L167.55 487.98 Z" fill="#eeeefa" stroke="#161622" stroke-width="1.2"/>
<rect x="150.15" y="591.4" width="26.8" height="2.49" fill="url(#gv)" stroke="#161622" stroke-width="1.2" rx="0.3"/>
<rect x="150.46" y="593.74" width="26.18" height="2.94" fill="url(#gv)" stroke="#161622" stroke-width="1.2" rx="0.3"/>
<rect x="153.85" y="596.68" width="19.4" height="6.04" fill="url(#gv)" stroke="#161622" stroke-width="1.2" rx="0.6"/>
<rect x="151.38" y="602.73" width="24.33" height="4.3" fill="url(#gv)" stroke="#161622" stroke-width="1.2" rx="1.2"/>
<rect x="153.31" y="607.03" width="20.48" height="13.29" fill="url(#gv)" stroke="#161622" stroke-width="1.2" rx="0.6"/>
<rect x="152.46" y="620.32" width="22.18" height="20.91" fill="url(#gn)" stroke="#161622" stroke-width="1.2" rx="0.8"/>
<line x1="152.46" y1="625" x2="174.64" y2="625" stroke="#161622" stroke-width="1.08"/>
<line x1="152.46" y1="623.49" x2="174.64" y2="623.49" stroke="#c8c8d8" stroke-width="0.96"/>
<rect x="155.11" y="641.23" width="16.87" height="5.28" fill="url(#gv)" stroke="#161622" stroke-width="1.2" rx="0.6"/>
<rect x="154.76" y="646.51" width="17.59" height="8.3" fill="#a9abc0" stroke="#161622" stroke-width="1.2" rx="0.6"/>
<rect x="163.12" y="646.51" width="9.22" height="8.3" fill="#9496ac" stroke="#161622" stroke-width="1.08"/>
<rect x="155.69" y="654.82" width="15.73" height="3.55" fill="url(#gl)" stroke="#161622" stroke-width="1.2" rx="0.6"/>
<rect x="154.11" y="658.37" width="18.88" height="5.13" fill="url(#gv)" stroke="#161622" stroke-width="1.2" rx="1.2"/>
<rect x="154.97" y="663.5" width="17.16" height="6.27" fill="url(#gv)" stroke="#161622" stroke-width="1.2" rx="0.6"/>
<rect x="154.11" y="669.77" width="18.88" height="4.91" fill="url(#gv)" stroke="#161622" stroke-width="1.2" rx="1.2"/>
<rect x="154.76" y="674.68" width="17.59" height="9.59" fill="url(#gv)" stroke="#161622" stroke-width="1.2" rx="0.6"/>
<rect x="156.26" y="684.26" width="14.59" height="2.64" fill="url(#gl)" stroke="#161622" stroke-width="1.2" rx="0.6"/>
<rect x="155.83" y="686.61" width="15.44" height="2.94" fill="#0c0c10" stroke="#0c0c10" stroke-width="0.6" rx="0.8"/>
<path d="M159.55 643.27 L159.55 614.79 Q159.55 611.78 162.55 611.78 L164.55 611.78 Q167.55 611.78 167.55 614.79 L167.55 643.27 Z" fill="#eeeefa" stroke="#161622" stroke-width="1.2"/>
<rect x="189.9" y="434.6" width="26.8" height="2.56" fill="url(#gv)" stroke="#161622" stroke-width="1.2" rx="0.3"/>
<rect x="190.21" y="437.01" width="26.18" height="3.03" fill="url(#gv)" stroke="#161622" stroke-width="1.2" rx="0.3"/>
<rect x="193.6" y="440.04" width="19.4" height="6.22" fill="url(#gv)" stroke="#161622" stroke-width="1.2" rx="0.6"/>
<rect x="191.13" y="446.25" width="24.33" height="4.43" fill="url(#gv)" stroke="#161622" stroke-width="1.2" rx="1.2"/>
<rect x="193.06" y="450.68" width="20.48" height="13.68" fill="url(#gv)" stroke="#161622" stroke-width="1.2" rx="0.6"/>
<rect x="192.21" y="464.36" width="22.18" height="21.52" fill="url(#gn)" stroke="#161622" stroke-width="1.2" rx="0.8"/>
<line x1="192.21" y1="469.18" x2="214.39" y2="469.18" stroke="#161622" stroke-width="1.08"/>
<line x1="192.21" y1="467.62" x2="214.39" y2="467.62" stroke="#c8c8d8" stroke-width="0.96"/>
<rect x="194.86" y="485.88" width="16.87" height="5.44" fill="url(#gv)" stroke="#161622" stroke-width="1.2" rx="0.6"/>
<rect x="194.51" y="491.32" width="17.59" height="8.55" fill="#a9abc0" stroke="#161622" stroke-width="1.2" rx="0.6"/>
<rect x="202.87" y="491.32" width="9.22" height="8.55" fill="#9496ac" stroke="#161622" stroke-width="1.08"/>
<rect x="195.44" y="499.87" width="15.73" height="3.65" fill="url(#gl)" stroke="#161622" stroke-width="1.2" rx="0.6"/>
<rect x="193.86" y="503.52" width="18.88" height="5.28" fill="url(#gv)" stroke="#161622" stroke-width="1.2" rx="1.2"/>
<rect x="194.72" y="508.8" width="17.16" height="6.45" fill="url(#gv)" stroke="#161622" stroke-width="1.2" rx="0.6"/>
<rect x="193.86" y="515.25" width="18.88" height="5.05" fill="url(#gv)" stroke="#161622" stroke-width="1.2" rx="1.2"/>
<rect x="194.51" y="520.3" width="17.59" height="9.87" fill="url(#gv)" stroke="#161622" stroke-width="1.2" rx="0.6"/>
<rect x="196.01" y="530.17" width="14.59" height="2.72" fill="url(#gl)" stroke="#161622" stroke-width="1.2" rx="0.6"/>
<rect x="195.58" y="532.58" width="15.44" height="3.03" fill="#0c0c10" stroke="#0c0c10" stroke-width="0.6" rx="0.8"/>
<path d="M199.3 487.98 L199.3 458.58 Q199.3 455.58 202.3 455.58 L204.3 455.58 Q207.3 455.58 207.3 458.58 L207.3 487.98 Z" fill="#eeeefa" stroke="#161622" stroke-width="1.2"/>
<rect x="189.9" y="591.4" width="26.8" height="2.49" fill="url(#gv)" stroke="#161622" stroke-width="1.2" rx="0.3"/>
<rect x="190.21" y="593.74" width="26.18" height="2.94" fill="url(#gv)" stroke="#161622" stroke-width="1.2" rx="0.3"/>
<rect x="193.6" y="596.68" width="19.4" height="6.04" fill="url(#gv)" stroke="#161622" stroke-width="1.2" rx="0.6"/>
<rect x="191.13" y="602.73" width="24.33" height="4.3" fill="url(#gv)" stroke="#161622" stroke-width="1.2" rx="1.2"/>
<rect x="193.06" y="607.03" width="20.48" height="13.29" fill="url(#gv)" stroke="#161622" stroke-width="1.2" rx="0.6"/>
<rect x="192.21" y="620.32" width="22.18" height="20.91" fill="url(#gn)" stroke="#161622" stroke-width="1.2" rx="0.8"/>
<line x1="192.21" y1="625" x2="214.39" y2="625" stroke="#161622" stroke-width="1.08"/>
<line x1="192.21" y1="623.49" x2="214.39" y2="623.49" stroke="#c8c8d8" stroke-width="0.96"/>
<rect x="194.86" y="641.23" width="16.87" height="5.28" fill="url(#gv)" stroke="#161622" stroke-width="1.2" rx="0.6"/>
<rect x="194.51" y="646.51" width="17.59" height="8.3" fill="#a9abc0" stroke="#161622" stroke-width="1.2" rx="0.6"/>
<rect x="202.87" y="646.51" width="9.22" height="8.3" fill="#9496ac" stroke="#161622" stroke-width="1.08"/>
<rect x="195.44" y="654.82" width="15.73" height="3.55" fill="url(#gl)" stroke="#161622" stroke-width="1.2" rx="0.6"/>
<rect x="193.86" y="658.37" width="18.88" height="5.13" fill="url(#gv)" stroke="#161622" stroke-width="1.2" rx="1.2"/>
<rect x="194.72" y="663.5" width="17.16" height="6.27" fill="url(#gv)" stroke="#161622" stroke-width="1.2" rx="0.6"/>
<rect x="193.86" y="669.77" width="18.88" height="4.91" fill="url(#gv)" stroke="#161622" stroke-width="1.2" rx="1.2"/>
<rect x="194.51" y="674.68" width="17.59" height="9.59" fill="url(#gv)" stroke="#161622" stroke-width="1.2" rx="0.6"/>
<rect x="196.01" y="684.26" width="14.59" height="2.64" fill="url(#gl)" stroke="#161622" stroke-width="1.2" rx="0.6"/>
<rect x="195.58" y="686.61" width="15.44" height="2.94" fill="#0c0c10" stroke="#0c0c10" stroke-width="0.6" rx="0.8"/>
<path d="M199.3 643.27 L199.3 614.79 Q199.3 611.78 202.3 611.78 L204.3 611.78 Q207.3 611.78 207.3 614.79 L207.3 643.27 Z" fill="#eeeefa" stroke="#161622" stroke-width="1.2"/>
<rect x="229.65" y="434.6" width="26.8" height="2.56" fill="url(#gv)" stroke="#161622" stroke-width="1.2" rx="0.3"/>
<rect x="229.96" y="437.01" width="26.18" height="3.03" fill="url(#gv)" stroke="#161622" stroke-width="1.2" rx="0.3"/>
<rect x="233.35" y="440.04" width="19.4" height="6.22" fill="url(#gv)" stroke="#161622" stroke-width="1.2" rx="0.6"/>
<rect x="230.88" y="446.25" width="24.33" height="4.43" fill="url(#gv)" stroke="#161622" stroke-width="1.2" rx="1.2"/>
<rect x="232.81" y="450.68" width="20.48" height="13.68" fill="url(#gv)" stroke="#161622" stroke-width="1.2" rx="0.6"/>
<rect x="231.96" y="464.36" width="22.18" height="21.52" fill="url(#gn)" stroke="#161622" stroke-width="1.2" rx="0.8"/>
<line x1="231.96" y1="469.18" x2="254.14" y2="469.18" stroke="#161622" stroke-width="1.08"/>
<line x1="231.96" y1="467.62" x2="254.14" y2="467.62" stroke="#c8c8d8" stroke-width="0.96"/>
<rect x="234.61" y="485.88" width="16.87" height="5.44" fill="url(#gv)" stroke="#161622" stroke-width="1.2" rx="0.6"/>
<rect x="234.26" y="491.32" width="17.59" height="8.55" fill="#a9abc0" stroke="#161622" stroke-width="1.2" rx="0.6"/>
<rect x="242.62" y="491.32" width="9.22" height="8.55" fill="#9496ac" stroke="#161622" stroke-width="1.08"/>
<rect x="235.19" y="499.87" width="15.73" height="3.65" fill="url(#gl)" stroke="#161622" stroke-width="1.2" rx="0.6"/>
<rect x="233.61" y="503.52" width="18.88" height="5.28" fill="url(#gv)" stroke="#161622" stroke-width="1.2" rx="1.2"/>
<rect x="234.47" y="508.8" width="17.16" height="6.45" fill="url(#gv)" stroke="#161622" stroke-width="1.2" rx="0.6"/>
<rect x="233.61" y="515.25" width="18.88" height="5.05" fill="url(#gv)" stroke="#161622" stroke-width="1.2" rx="1.2"/>
<rect x="234.26" y="520.3" width="17.59" height="9.87" fill="url(#gv)" stroke="#161622" stroke-width="1.2" rx="0.6"/>
<rect x="235.76" y="530.17" width="14.59" height="2.72" fill="url(#gl)" stroke="#161622" stroke-width="1.2" rx="0.6"/>
<rect x="235.33" y="532.58" width="15.44" height="3.03" fill="#0c0c10" stroke="#0c0c10" stroke-width="0.6" rx="0.8"/>
<path d="M239.05 487.98 L239.05 458.58 Q239.05 455.58 242.05 455.58 L244.05 455.58 Q247.05 455.58 247.05 458.58 L247.05 487.98 Z" fill="#eeeefa" stroke="#161622" stroke-width="1.2"/>
<rect x="229.65" y="591.4" width="26.8" height="2.49" fill="url(#gv)" stroke="#161622" stroke-width="1.2" rx="0.3"/>
<rect x="229.96" y="593.74" width="26.18" height="2.94" fill="url(#gv)" stroke="#161622" stroke-width="1.2" rx="0.3"/>
<rect x="233.35" y="596.68" width="19.4" height="6.04" fill="url(#gv)" stroke="#161622" stroke-width="1.2" rx="0.6"/>
<rect x="230.88" y="602.73" width="24.33" height="4.3" fill="url(#gv)" stroke="#161622" stroke-width="1.2" rx="1.2"/>
<rect x="232.81" y="607.03" width="20.48" height="13.29" fill="url(#gv)" stroke="#161622" stroke-width="1.2" rx="0.6"/>
<rect x="231.96" y="620.32" width="22.18" height="20.91" fill="url(#gn)" stroke="#161622" stroke-width="1.2" rx="0.8"/>
<line x1="231.96" y1="625" x2="254.14" y2="625" stroke="#161622" stroke-width="1.08"/>
<line x1="231.96" y1="623.49" x2="254.14" y2="623.49" stroke="#c8c8d8" stroke-width="0.96"/>
<rect x="234.61" y="641.23" width="16.87" height="5.28" fill="url(#gv)" stroke="#161622" stroke-width="1.2" rx="0.6"/>
<rect x="234.26" y="646.51" width="17.59" height="8.3" fill="#a9abc0" stroke="#161622" stroke-width="1.2" rx="0.6"/>
<rect x="242.62" y="646.51" width="9.22" height="8.3" fill="#9496ac" stroke="#161622" stroke-width="1.08"/>
<rect x="235.19" y="654.82" width="15.73" height="3.55" fill="url(#gl)" stroke="#161622" stroke-width="1.2" rx="0.6"/>
<rect x="233.61" y="658.37" width="18.88" height="5.13" fill="url(#gv)" stroke="#161622" stroke-width="1.2" rx="1.2"/>
<rect x="234.47" y="663.5" width="17.16" height="6.27" fill="url(#gv)" stroke="#161622" stroke-width="1.2" rx="0.6"/>
<rect x="233.61" y="669.77" width="18.88" height="4.91" fill="url(#gv)" stroke="#161622" stroke-width="1.2" rx="1.2"/>
<rect x="234.26" y="674.68" width="17.59" height="9.59" fill="url(#gv)" stroke="#161622" stroke-width="1.2" rx="0.6"/>
<rect x="235.76" y="684.26" width="14.59" height="2.64" fill="url(#gl)" stroke="#161622" stroke-width="1.2" rx="0.6"/>
<rect x="235.33" y="686.61" width="15.44" height="2.94" fill="#0c0c10" stroke="#0c0c10" stroke-width="0.6" rx="0.8"/>
<path d="M239.05 643.27 L239.05 614.79 Q239.05 611.78 242.05 611.78 L244.05 611.78 Q247.05 611.78 247.05 614.79 L247.05 643.27 Z" fill="#eeeefa" stroke="#161622" stroke-width="1.2"/>
<rect x="269.4" y="434.6" width="26.8" height="2.56" fill="url(#gv)" stroke="#161622" stroke-width="1.2" rx="0.3"/>
<rect x="269.71" y="437.01" width="26.18" height="3.03" fill="url(#gv)" stroke="#161622" stroke-width="1.2" rx="0.3"/>
<rect x="273.1" y="440.04" width="19.4" height="6.22" fill="url(#gv)" stroke="#161622" stroke-width="1.2" rx="0.6"/>
<rect x="270.63" y="446.25" width="24.33" height="4.43" fill="url(#gv)" stroke="#161622" stroke-width="1.2" rx="1.2"/>
<rect x="272.56" y="450.68" width="20.48" height="13.68" fill="url(#gv)" stroke="#161622" stroke-width="1.2" rx="0.6"/>
<rect x="271.71" y="464.36" width="22.18" height="21.52" fill="url(#gn)" stroke="#161622" stroke-width="1.2" rx="0.8"/>
<line x1="271.71" y1="469.18" x2="293.89" y2="469.18" stroke="#161622" stroke-width="1.08"/>
<line x1="271.71" y1="467.62" x2="293.89" y2="467.62" stroke="#c8c8d8" stroke-width="0.96"/>
<rect x="274.36" y="485.88" width="16.87" height="5.44" fill="url(#gv)" stroke="#161622" stroke-width="1.2" rx="0.6"/>
<rect x="274.01" y="491.32" width="17.59" height="8.55" fill="#a9abc0" stroke="#161622" stroke-width="1.2" rx="0.6"/>
<rect x="282.37" y="491.32" width="9.22" height="8.55" fill="#9496ac" stroke="#161622" stroke-width="1.08"/>
<rect x="274.94" y="499.87" width="15.73" height="3.65" fill="url(#gl)" stroke="#161622" stroke-width="1.2" rx="0.6"/>
<rect x="273.36" y="503.52" width="18.88" height="5.28" fill="url(#gv)" stroke="#161622" stroke-width="1.2" rx="1.2"/>
<rect x="274.22" y="508.8" width="17.16" height="6.45" fill="url(#gv)" stroke="#161622" stroke-width="1.2" rx="0.6"/>
<rect x="273.36" y="515.25" width="18.88" height="5.05" fill="url(#gv)" stroke="#161622" stroke-width="1.2" rx="1.2"/>
<rect x="274.01" y="520.3" width="17.59" height="9.87" fill="url(#gv)" stroke="#161622" stroke-width="1.2" rx="0.6"/>
<rect x="275.51" y="530.17" width="14.59" height="2.72" fill="url(#gl)" stroke="#161622" stroke-width="1.2" rx="0.6"/>
<rect x="275.08" y="532.58" width="15.44" height="3.03" fill="#0c0c10" stroke="#0c0c10" stroke-width="0.6" rx="0.8"/>
<path d="M278.8 487.98 L278.8 458.58 Q278.8 455.58 281.8 455.58 L283.8 455.58 Q286.8 455.58 286.8 458.58 L286.8 487.98 Z" fill="#eeeefa" stroke="#161622" stroke-width="1.2"/>
<rect x="269.4" y="591.4" width="26.8" height="2.49" fill="url(#gv)" stroke="#161622" stroke-width="1.2" rx="0.3"/>
<rect x="269.71" y="593.74" width="26.18" height="2.94" fill="url(#gv)" stroke="#161622" stroke-width="1.2" rx="0.3"/>
<rect x="273.1" y="596.68" width="19.4" height="6.04" fill="url(#gv)" stroke="#161622" stroke-width="1.2" rx="0.6"/>
<rect x="270.63" y="602.73" width="24.33" height="4.3" fill="url(#gv)" stroke="#161622" stroke-width="1.2" rx="1.2"/>
<rect x="272.56" y="607.03" width="20.48" height="13.29" fill="url(#gv)" stroke="#161622" stroke-width="1.2" rx="0.6"/>
<rect x="271.71" y="620.32" width="22.18" height="20.91" fill="url(#gn)" stroke="#161622" stroke-width="1.2" rx="0.8"/>
<line x1="271.71" y1="625" x2="293.89" y2="625" stroke="#161622" stroke-width="1.08"/>
<line x1="271.71" y1="623.49" x2="293.89" y2="623.49" stroke="#c8c8d8" stroke-width="0.96"/>
<rect x="274.36" y="641.23" width="16.87" height="5.28" fill="url(#gv)" stroke="#161622" stroke-width="1.2" rx="0.6"/>
<rect x="274.01" y="646.51" width="17.59" height="8.3" fill="#a9abc0" stroke="#161622" stroke-width="1.2" rx="0.6"/>
<rect x="282.37" y="646.51" width="9.22" height="8.3" fill="#9496ac" stroke="#161622" stroke-width="1.08"/>
<rect x="274.94" y="654.82" width="15.73" height="3.55" fill="url(#gl)" stroke="#161622" stroke-width="1.2" rx="0.6"/>
<rect x="273.36" y="658.37" width="18.88" height="5.13" fill="url(#gv)" stroke="#161622" stroke-width="1.2" rx="1.2"/>
<rect x="274.22" y="663.5" width="17.16" height="6.27" fill="url(#gv)" stroke="#161622" stroke-width="1.2" rx="0.6"/>
<rect x="273.36" y="669.77" width="18.88" height="4.91" fill="url(#gv)" stroke="#161622" stroke-width="1.2" rx="1.2"/>
<rect x="274.01" y="674.68" width="17.59" height="9.59" fill="url(#gv)" stroke="#161622" stroke-width="1.2" rx="0.6"/>
<rect x="275.51" y="684.26" width="14.59" height="2.64" fill="url(#gl)" stroke="#161622" stroke-width="1.2" rx="0.6"/>
<rect x="275.08" y="686.61" width="15.44" height="2.94" fill="#0c0c10" stroke="#0c0c10" stroke-width="0.6" rx="0.8"/>
<path d="M278.8 643.27 L278.8 614.79 Q278.8 611.78 281.8 611.78 L283.8 611.78 Q286.8 611.78 286.8 614.79 L286.8 643.27 Z" fill="#eeeefa" stroke="#161622" stroke-width="1.2"/>
<rect x="309.15" y="434.6" width="26.8" height="2.56" fill="url(#gv)" stroke="#161622" stroke-width="1.2" rx="0.3"/>
<rect x="309.46" y="437.01" width="26.18" height="3.03" fill="url(#gv)" stroke="#161622" stroke-width="1.2" rx="0.3"/>
<rect x="312.85" y="440.04" width="19.4" height="6.22" fill="url(#gv)" stroke="#161622" stroke-width="1.2" rx="0.6"/>
<rect x="310.38" y="446.25" width="24.33" height="4.43" fill="url(#gv)" stroke="#161622" stroke-width="1.2" rx="1.2"/>
<rect x="312.31" y="450.68" width="20.48" height="13.68" fill="url(#gv)" stroke="#161622" stroke-width="1.2" rx="0.6"/>
<rect x="311.46" y="464.36" width="22.18" height="21.52" fill="url(#gn)" stroke="#161622" stroke-width="1.2" rx="0.8"/>
<line x1="311.46" y1="469.18" x2="333.64" y2="469.18" stroke="#161622" stroke-width="1.08"/>
<line x1="311.46" y1="467.62" x2="333.64" y2="467.62" stroke="#c8c8d8" stroke-width="0.96"/>
<rect x="314.11" y="485.88" width="16.87" height="5.44" fill="url(#gv)" stroke="#161622" stroke-width="1.2" rx="0.6"/>
<rect x="313.76" y="491.32" width="17.59" height="8.55" fill="#a9abc0" stroke="#161622" stroke-width="1.2" rx="0.6"/>
<rect x="322.12" y="491.32" width="9.22" height="8.55" fill="#9496ac" stroke="#161622" stroke-width="1.08"/>
<rect x="314.69" y="499.87" width="15.73" height="3.65" fill="url(#gl)" stroke="#161622" stroke-width="1.2" rx="0.6"/>
<rect x="313.11" y="503.52" width="18.88" height="5.28" fill="url(#gv)" stroke="#161622" stroke-width="1.2" rx="1.2"/>
<rect x="313.97" y="508.8" width="17.16" height="6.45" fill="url(#gv)" stroke="#161622" stroke-width="1.2" rx="0.6"/>
<rect x="313.11" y="515.25" width="18.88" height="5.05" fill="url(#gv)" stroke="#161622" stroke-width="1.2" rx="1.2"/>
<rect x="313.76" y="520.3" width="17.59" height="9.87" fill="url(#gv)" stroke="#161622" stroke-width="1.2" rx="0.6"/>
<rect x="315.26" y="530.17" width="14.59" height="2.72" fill="url(#gl)" stroke="#161622" stroke-width="1.2" rx="0.6"/>
<rect x="314.83" y="532.58" width="15.44" height="3.03" fill="#0c0c10" stroke="#0c0c10" stroke-width="0.6" rx="0.8"/>
<path d="M318.55 487.98 L318.55 458.58 Q318.55 455.58 321.55 455.58 L323.55 455.58 Q326.55 455.58 326.55 458.58 L326.55 487.98 Z" fill="#eeeefa" stroke="#161622" stroke-width="1.2"/>
<rect x="309.15" y="591.4" width="26.8" height="2.49" fill="url(#gv)" stroke="#161622" stroke-width="1.2" rx="0.3"/>
<rect x="309.46" y="593.74" width="26.18" height="2.94" fill="url(#gv)" stroke="#161622" stroke-width="1.2" rx="0.3"/>
<rect x="312.85" y="596.68" width="19.4" height="6.04" fill="url(#gv)" stroke="#161622" stroke-width="1.2" rx="0.6"/>
<rect x="310.38" y="602.73" width="24.33" height="4.3" fill="url(#gv)" stroke="#161622" stroke-width="1.2" rx="1.2"/>
<rect x="312.31" y="607.03" width="20.48" height="13.29" fill="url(#gv)" stroke="#161622" stroke-width="1.2" rx="0.6"/>
<rect x="311.46" y="620.32" width="22.18" height="20.91" fill="url(#gn)" stroke="#161622" stroke-width="1.2" rx="0.8"/>
<line x1="311.46" y1="625" x2="333.64" y2="625" stroke="#161622" stroke-width="1.08"/>
<line x1="311.46" y1="623.49" x2="333.64" y2="623.49" stroke="#c8c8d8" stroke-width="0.96"/>
<rect x="314.11" y="641.23" width="16.87" height="5.28" fill="url(#gv)" stroke="#161622" stroke-width="1.2" rx="0.6"/>
<rect x="313.76" y="646.51" width="17.59" height="8.3" fill="#a9abc0" stroke="#161622" stroke-width="1.2" rx="0.6"/>
<rect x="322.12" y="646.51" width="9.22" height="8.3" fill="#9496ac" stroke="#161622" stroke-width="1.08"/>
<rect x="314.69" y="654.82" width="15.73" height="3.55" fill="url(#gl)" stroke="#161622" stroke-width="1.2" rx="0.6"/>
<rect x="313.11" y="658.37" width="18.88" height="5.13" fill="url(#gv)" stroke="#161622" stroke-width="1.2" rx="1.2"/>
<rect x="313.97" y="663.5" width="17.16" height="6.27" fill="url(#gv)" stroke="#161622" stroke-width="1.2" rx="0.6"/>
<rect x="313.11" y="669.77" width="18.88" height="4.91" fill="url(#gv)" stroke="#161622" stroke-width="1.2" rx="1.2"/>
<rect x="313.76" y="674.68" width="17.59" height="9.59" fill="url(#gv)" stroke="#161622" stroke-width="1.2" rx="0.6"/>
<rect x="315.26" y="684.26" width="14.59" height="2.64" fill="url(#gl)" stroke="#161622" stroke-width="1.2" rx="0.6"/>
<rect x="314.83" y="686.61" width="15.44" height="2.94" fill="#0c0c10" stroke="#0c0c10" stroke-width="0.6" rx="0.8"/>
<path d="M318.55 643.27 L318.55 614.79 Q318.55 611.78 321.55 611.78 L323.55 611.78 Q326.55 611.78 326.55 614.79 L326.55 643.27 Z" fill="#eeeefa" stroke="#161622" stroke-width="1.2"/>
<rect x="348.9" y="434.6" width="26.8" height="2.56" fill="url(#gv)" stroke="#161622" stroke-width="1.2" rx="0.3"/>
<rect x="349.21" y="437.01" width="26.18" height="3.03" fill="url(#gv)" stroke="#161622" stroke-width="1.2" rx="0.3"/>
<rect x="352.6" y="440.04" width="19.4" height="6.22" fill="url(#gv)" stroke="#161622" stroke-width="1.2" rx="0.6"/>
<rect x="350.13" y="446.25" width="24.33" height="4.43" fill="url(#gv)" stroke="#161622" stroke-width="1.2" rx="1.2"/>
<rect x="352.06" y="450.68" width="20.48" height="13.68" fill="url(#gv)" stroke="#161622" stroke-width="1.2" rx="0.6"/>
<rect x="351.21" y="464.36" width="22.18" height="21.52" fill="url(#gn)" stroke="#161622" stroke-width="1.2" rx="0.8"/>
<line x1="351.21" y1="469.18" x2="373.39" y2="469.18" stroke="#161622" stroke-width="1.08"/>
<line x1="351.21" y1="467.62" x2="373.39" y2="467.62" stroke="#c8c8d8" stroke-width="0.96"/>
<rect x="353.86" y="485.88" width="16.87" height="5.44" fill="url(#gv)" stroke="#161622" stroke-width="1.2" rx="0.6"/>
<rect x="353.51" y="491.32" width="17.59" height="8.55" fill="#a9abc0" stroke="#161622" stroke-width="1.2" rx="0.6"/>
<rect x="361.87" y="491.32" width="9.22" height="8.55" fill="#9496ac" stroke="#161622" stroke-width="1.08"/>
<rect x="354.44" y="499.87" width="15.73" height="3.65" fill="url(#gl)" stroke="#161622" stroke-width="1.2" rx="0.6"/>
<rect x="352.86" y="503.52" width="18.88" height="5.28" fill="url(#gv)" stroke="#161622" stroke-width="1.2" rx="1.2"/>
<rect x="353.72" y="508.8" width="17.16" height="6.45" fill="url(#gv)" stroke="#161622" stroke-width="1.2" rx="0.6"/>
<rect x="352.86" y="515.25" width="18.88" height="5.05" fill="url(#gv)" stroke="#161622" stroke-width="1.2" rx="1.2"/>
<rect x="353.51" y="520.3" width="17.59" height="9.87" fill="url(#gv)" stroke="#161622" stroke-width="1.2" rx="0.6"/>
<rect x="355.01" y="530.17" width="14.59" height="2.72" fill="url(#gl)" stroke="#161622" stroke-width="1.2" rx="0.6"/>
<rect x="354.58" y="532.58" width="15.44" height="3.03" fill="#0c0c10" stroke="#0c0c10" stroke-width="0.6" rx="0.8"/>
<path d="M358.3 487.98 L358.3 458.58 Q358.3 455.58 361.3 455.58 L363.3 455.58 Q366.3 455.58 366.3 458.58 L366.3 487.98 Z" fill="#eeeefa" stroke="#161622" stroke-width="1.2"/>
<rect x="348.9" y="591.4" width="26.8" height="2.49" fill="url(#gv)" stroke="#161622" stroke-width="1.2" rx="0.3"/>
<rect x="349.21" y="593.74" width="26.18" height="2.94" fill="url(#gv)" stroke="#161622" stroke-width="1.2" rx="0.3"/>
<rect x="352.6" y="596.68" width="19.4" height="6.04" fill="url(#gv)" stroke="#161622" stroke-width="1.2" rx="0.6"/>
<rect x="350.13" y="602.73" width="24.33" height="4.3" fill="url(#gv)" stroke="#161622" stroke-width="1.2" rx="1.2"/>
<rect x="352.06" y="607.03" width="20.48" height="13.29" fill="url(#gv)" stroke="#161622" stroke-width="1.2" rx="0.6"/>
<rect x="351.21" y="620.32" width="22.18" height="20.91" fill="url(#gn)" stroke="#161622" stroke-width="1.2" rx="0.8"/>
<line x1="351.21" y1="625" x2="373.39" y2="625" stroke="#161622" stroke-width="1.08"/>
<line x1="351.21" y1="623.49" x2="373.39" y2="623.49" stroke="#c8c8d8" stroke-width="0.96"/>
<rect x="353.86" y="641.23" width="16.87" height="5.28" fill="url(#gv)" stroke="#161622" stroke-width="1.2" rx="0.6"/>
<rect x="353.51" y="646.51" width="17.59" height="8.3" fill="#a9abc0" stroke="#161622" stroke-width="1.2" rx="0.6"/>
<rect x="361.87" y="646.51" width="9.22" height="8.3" fill="#9496ac" stroke="#161622" stroke-width="1.08"/>
<rect x="354.44" y="654.82" width="15.73" height="3.55" fill="url(#gl)" stroke="#161622" stroke-width="1.2" rx="0.6"/>
<rect x="352.86" y="658.37" width="18.88" height="5.13" fill="url(#gv)" stroke="#161622" stroke-width="1.2" rx="1.2"/>
<rect x="353.72" y="663.5" width="17.16" height="6.27" fill="url(#gv)" stroke="#161622" stroke-width="1.2" rx="0.6"/>
<rect x="352.86" y="669.77" width="18.88" height="4.91" fill="url(#gv)" stroke="#161622" stroke-width="1.2" rx="1.2"/>
<rect x="353.51" y="674.68" width="17.59" height="9.59" fill="url(#gv)" stroke="#161622" stroke-width="1.2" rx="0.6"/>
<rect x="355.01" y="684.26" width="14.59" height="2.64" fill="url(#gl)" stroke="#161622" stroke-width="1.2" rx="0.6"/>
<rect x="354.58" y="686.61" width="15.44" height="2.94" fill="#0c0c10" stroke="#0c0c10" stroke-width="0.6" rx="0.8"/>
<path d="M358.3 643.27 L358.3 614.79 Q358.3 611.78 361.3 611.78 L363.3 611.78 Q366.3 611.78 366.3 614.79 L366.3 643.27 Z" fill="#eeeefa" stroke="#161622" stroke-width="1.2"/>
<rect x="388.65" y="434.6" width="26.8" height="2.56" fill="url(#gv)" stroke="#161622" stroke-width="1.2" rx="0.3"/>
<rect x="388.96" y="437.01" width="26.18" height="3.03" fill="url(#gv)" stroke="#161622" stroke-width="1.2" rx="0.3"/>
<rect x="392.35" y="440.04" width="19.4" height="6.22" fill="url(#gv)" stroke="#161622" stroke-width="1.2" rx="0.6"/>
<rect x="389.88" y="446.25" width="24.33" height="4.43" fill="url(#gv)" stroke="#161622" stroke-width="1.2" rx="1.2"/>
<rect x="391.81" y="450.68" width="20.48" height="13.68" fill="url(#gv)" stroke="#161622" stroke-width="1.2" rx="0.6"/>
<rect x="390.96" y="464.36" width="22.18" height="21.52" fill="url(#gn)" stroke="#161622" stroke-width="1.2" rx="0.8"/>
<line x1="390.96" y1="469.18" x2="413.14" y2="469.18" stroke="#161622" stroke-width="1.08"/>
<line x1="390.96" y1="467.62" x2="413.14" y2="467.62" stroke="#c8c8d8" stroke-width="0.96"/>
<rect x="393.61" y="485.88" width="16.87" height="5.44" fill="url(#gv)" stroke="#161622" stroke-width="1.2" rx="0.6"/>
<rect x="393.26" y="491.32" width="17.59" height="8.55" fill="#a9abc0" stroke="#161622" stroke-width="1.2" rx="0.6"/>
<rect x="401.62" y="491.32" width="9.22" height="8.55" fill="#9496ac" stroke="#161622" stroke-width="1.08"/>
<rect x="394.19" y="499.87" width="15.73" height="3.65" fill="url(#gl)" stroke="#161622" stroke-width="1.2" rx="0.6"/>
<rect x="392.61" y="503.52" width="18.88" height="5.28" fill="url(#gv)" stroke="#161622" stroke-width="1.2" rx="1.2"/>
<rect x="393.47" y="508.8" width="17.16" height="6.45" fill="url(#gv)" stroke="#161622" stroke-width="1.2" rx="0.6"/>
<rect x="392.61" y="515.25" width="18.88" height="5.05" fill="url(#gv)" stroke="#161622" stroke-width="1.2" rx="1.2"/>
<rect x="393.26" y="520.3" width="17.59" height="9.87" fill="url(#gv)" stroke="#161622" stroke-width="1.2" rx="0.6"/>
<rect x="394.76" y="530.17" width="14.59" height="2.72" fill="url(#gl)" stroke="#161622" stroke-width="1.2" rx="0.6"/>
<rect x="394.33" y="532.58" width="15.44" height="3.03" fill="#0c0c10" stroke="#0c0c10" stroke-width="0.6" rx="0.8"/>
<path d="M398.05 487.98 L398.05 458.58 Q398.05 455.58 401.05 455.58 L403.05 455.58 Q406.05 455.58 406.05 458.58 L406.05 487.98 Z" fill="#eeeefa" stroke="#161622" stroke-width="1.2"/>
<rect x="388.65" y="591.4" width="26.8" height="2.49" fill="url(#gv)" stroke="#161622" stroke-width="1.2" rx="0.3"/>
<rect x="388.96" y="593.74" width="26.18" height="2.94" fill="url(#gv)" stroke="#161622" stroke-width="1.2" rx="0.3"/>
<rect x="392.35" y="596.68" width="19.4" height="6.04" fill="url(#gv)" stroke="#161622" stroke-width="1.2" rx="0.6"/>
<rect x="389.88" y="602.73" width="24.33" height="4.3" fill="url(#gv)" stroke="#161622" stroke-width="1.2" rx="1.2"/>
<rect x="391.81" y="607.03" width="20.48" height="13.29" fill="url(#gv)" stroke="#161622" stroke-width="1.2" rx="0.6"/>
<rect x="390.96" y="620.32" width="22.18" height="20.91" fill="url(#gn)" stroke="#161622" stroke-width="1.2" rx="0.8"/>
<line x1="390.96" y1="625" x2="413.14" y2="625" stroke="#161622" stroke-width="1.08"/>
<line x1="390.96" y1="623.49" x2="413.14" y2="623.49" stroke="#c8c8d8" stroke-width="0.96"/>
<rect x="393.61" y="641.23" width="16.87" height="5.28" fill="url(#gv)" stroke="#161622" stroke-width="1.2" rx="0.6"/>
<rect x="393.26" y="646.51" width="17.59" height="8.3" fill="#a9abc0" stroke="#161622" stroke-width="1.2" rx="0.6"/>
<rect x="401.62" y="646.51" width="9.22" height="8.3" fill="#9496ac" stroke="#161622" stroke-width="1.08"/>
<rect x="394.19" y="654.82" width="15.73" height="3.55" fill="url(#gl)" stroke="#161622" stroke-width="1.2" rx="0.6"/>
<rect x="392.61" y="658.37" width="18.88" height="5.13" fill="url(#gv)" stroke="#161622" stroke-width="1.2" rx="1.2"/>
<rect x="393.47" y="663.5" width="17.16" height="6.27" fill="url(#gv)" stroke="#161622" stroke-width="1.2" rx="0.6"/>
<rect x="392.61" y="669.77" width="18.88" height="4.91" fill="url(#gv)" stroke="#161622" stroke-width="1.2" rx="1.2"/>
<rect x="393.26" y="674.68" width="17.59" height="9.59" fill="url(#gv)" stroke="#161622" stroke-width="1.2" rx="0.6"/>
<rect x="394.76" y="684.26" width="14.59" height="2.64" fill="url(#gl)" stroke="#161622" stroke-width="1.2" rx="0.6"/>
<rect x="394.33" y="686.61" width="15.44" height="2.94" fill="#0c0c10" stroke="#0c0c10" stroke-width="0.6" rx="0.8"/>
<path d="M398.05 643.27 L398.05 614.79 Q398.05 611.78 401.05 611.78 L403.05 611.78 Q406.05 611.78 406.05 614.79 L406.05 643.27 Z" fill="#eeeefa" stroke="#161622" stroke-width="1.2"/>
<rect x="428.4" y="434.6" width="26.8" height="2.56" fill="url(#gv)" stroke="#161622" stroke-width="1.2" rx="0.3"/>
<rect x="428.71" y="437.01" width="26.18" height="3.03" fill="url(#gv)" stroke="#161622" stroke-width="1.2" rx="0.3"/>
<rect x="432.1" y="440.04" width="19.4" height="6.22" fill="url(#gv)" stroke="#161622" stroke-width="1.2" rx="0.6"/>
<rect x="429.63" y="446.25" width="24.33" height="4.43" fill="url(#gv)" stroke="#161622" stroke-width="1.2" rx="1.2"/>
<rect x="431.56" y="450.68" width="20.48" height="13.68" fill="url(#gv)" stroke="#161622" stroke-width="1.2" rx="0.6"/>
<rect x="430.71" y="464.36" width="22.18" height="21.52" fill="url(#gn)" stroke="#161622" stroke-width="1.2" rx="0.8"/>
<line x1="430.71" y1="469.18" x2="452.89" y2="469.18" stroke="#161622" stroke-width="1.08"/>
<line x1="430.71" y1="467.62" x2="452.89" y2="467.62" stroke="#c8c8d8" stroke-width="0.96"/>
<rect x="433.36" y="485.88" width="16.87" height="5.44" fill="url(#gv)" stroke="#161622" stroke-width="1.2" rx="0.6"/>
<rect x="433.01" y="491.32" width="17.59" height="8.55" fill="#a9abc0" stroke="#161622" stroke-width="1.2" rx="0.6"/>
<rect x="441.37" y="491.32" width="9.22" height="8.55" fill="#9496ac" stroke="#161622" stroke-width="1.08"/>
<rect x="433.94" y="499.87" width="15.73" height="3.65" fill="url(#gl)" stroke="#161622" stroke-width="1.2" rx="0.6"/>
<rect x="432.36" y="503.52" width="18.88" height="5.28" fill="url(#gv)" stroke="#161622" stroke-width="1.2" rx="1.2"/>
<rect x="433.22" y="508.8" width="17.16" height="6.45" fill="url(#gv)" stroke="#161622" stroke-width="1.2" rx="0.6"/>
<rect x="432.36" y="515.25" width="18.88" height="5.05" fill="url(#gv)" stroke="#161622" stroke-width="1.2" rx="1.2"/>
<rect x="433.01" y="520.3" width="17.59" height="9.87" fill="url(#gv)" stroke="#161622" stroke-width="1.2" rx="0.6"/>
<rect x="434.51" y="530.17" width="14.59" height="2.72" fill="url(#gl)" stroke="#161622" stroke-width="1.2" rx="0.6"/>
<rect x="434.08" y="532.58" width="15.44" height="3.03" fill="#0c0c10" stroke="#0c0c10" stroke-width="0.6" rx="0.8"/>
<path d="M437.8 487.98 L437.8 458.58 Q437.8 455.58 440.8 455.58 L442.8 455.58 Q445.8 455.58 445.8 458.58 L445.8 487.98 Z" fill="#eeeefa" stroke="#161622" stroke-width="1.2"/>
<rect x="428.4" y="591.4" width="26.8" height="2.49" fill="url(#gv)" stroke="#161622" stroke-width="1.2" rx="0.3"/>
<rect x="428.71" y="593.74" width="26.18" height="2.94" fill="url(#gv)" stroke="#161622" stroke-width="1.2" rx="0.3"/>
<rect x="432.1" y="596.68" width="19.4" height="6.04" fill="url(#gv)" stroke="#161622" stroke-width="1.2" rx="0.6"/>
<rect x="429.63" y="602.73" width="24.33" height="4.3" fill="url(#gv)" stroke="#161622" stroke-width="1.2" rx="1.2"/>
<rect x="431.56" y="607.03" width="20.48" height="13.29" fill="url(#gv)" stroke="#161622" stroke-width="1.2" rx="0.6"/>
<rect x="430.71" y="620.32" width="22.18" height="20.91" fill="url(#gn)" stroke="#161622" stroke-width="1.2" rx="0.8"/>
<line x1="430.71" y1="625" x2="452.89" y2="625" stroke="#161622" stroke-width="1.08"/>
<line x1="430.71" y1="623.49" x2="452.89" y2="623.49" stroke="#c8c8d8" stroke-width="0.96"/>
<rect x="433.36" y="641.23" width="16.87" height="5.28" fill="url(#gv)" stroke="#161622" stroke-width="1.2" rx="0.6"/>
<rect x="433.01" y="646.51" width="17.59" height="8.3" fill="#a9abc0" stroke="#161622" stroke-width="1.2" rx="0.6"/>
<rect x="441.37" y="646.51" width="9.22" height="8.3" fill="#9496ac" stroke="#161622" stroke-width="1.08"/>
<rect x="433.94" y="654.82" width="15.73" height="3.55" fill="url(#gl)" stroke="#161622" stroke-width="1.2" rx="0.6"/>
<rect x="432.36" y="658.37" width="18.88" height="5.13" fill="url(#gv)" stroke="#161622" stroke-width="1.2" rx="1.2"/>
<rect x="433.22" y="663.5" width="17.16" height="6.27" fill="url(#gv)" stroke="#161622" stroke-width="1.2" rx="0.6"/>
<rect x="432.36" y="669.77" width="18.88" height="4.91" fill="url(#gv)" stroke="#161622" stroke-width="1.2" rx="1.2"/>
<rect x="433.01" y="674.68" width="17.59" height="9.59" fill="url(#gv)" stroke="#161622" stroke-width="1.2" rx="0.6"/>
<rect x="434.51" y="684.26" width="14.59" height="2.64" fill="url(#gl)" stroke="#161622" stroke-width="1.2" rx="0.6"/>
<rect x="434.08" y="686.61" width="15.44" height="2.94" fill="#0c0c10" stroke="#0c0c10" stroke-width="0.6" rx="0.8"/>
<path d="M437.8 643.27 L437.8 614.79 Q437.8 611.78 440.8 611.78 L442.8 611.78 Q445.8 611.78 445.8 614.79 L445.8 643.27 Z" fill="#eeeefa" stroke="#161622" stroke-width="1.2"/>
<rect x="468.15" y="434.6" width="26.8" height="2.56" fill="url(#gv)" stroke="#161622" stroke-width="1.2" rx="0.3"/>
<rect x="468.46" y="437.01" width="26.18" height="3.03" fill="url(#gv)" stroke="#161622" stroke-width="1.2" rx="0.3"/>
<rect x="471.85" y="440.04" width="19.4" height="6.22" fill="url(#gv)" stroke="#161622" stroke-width="1.2" rx="0.6"/>
<rect x="469.38" y="446.25" width="24.33" height="4.43" fill="url(#gv)" stroke="#161622" stroke-width="1.2" rx="1.2"/>
<rect x="471.31" y="450.68" width="20.48" height="13.68" fill="url(#gv)" stroke="#161622" stroke-width="1.2" rx="0.6"/>
<rect x="470.46" y="464.36" width="22.18" height="21.52" fill="url(#gn)" stroke="#161622" stroke-width="1.2" rx="0.8"/>
<line x1="470.46" y1="469.18" x2="492.64" y2="469.18" stroke="#161622" stroke-width="1.08"/>
<line x1="470.46" y1="467.62" x2="492.64" y2="467.62" stroke="#c8c8d8" stroke-width="0.96"/>
<rect x="473.11" y="485.88" width="16.87" height="5.44" fill="url(#gv)" stroke="#161622" stroke-width="1.2" rx="0.6"/>
<rect x="472.76" y="491.32" width="17.59" height="8.55" fill="#a9abc0" stroke="#161622" stroke-width="1.2" rx="0.6"/>
<rect x="481.12" y="491.32" width="9.22" height="8.55" fill="#9496ac" stroke="#161622" stroke-width="1.08"/>
<rect x="473.69" y="499.87" width="15.73" height="3.65" fill="url(#gl)" stroke="#161622" stroke-width="1.2" rx="0.6"/>
<rect x="472.11" y="503.52" width="18.88" height="5.28" fill="url(#gv)" stroke="#161622" stroke-width="1.2" rx="1.2"/>
<rect x="472.97" y="508.8" width="17.16" height="6.45" fill="url(#gv)" stroke="#161622" stroke-width="1.2" rx="0.6"/>
<rect x="472.11" y="515.25" width="18.88" height="5.05" fill="url(#gv)" stroke="#161622" stroke-width="1.2" rx="1.2"/>
<rect x="472.76" y="520.3" width="17.59" height="9.87" fill="url(#gv)" stroke="#161622" stroke-width="1.2" rx="0.6"/>
<rect x="474.26" y="530.17" width="14.59" height="2.72" fill="url(#gl)" stroke="#161622" stroke-width="1.2" rx="0.6"/>
<rect x="473.83" y="532.58" width="15.44" height="3.03" fill="#0c0c10" stroke="#0c0c10" stroke-width="0.6" rx="0.8"/>
<path d="M477.55 487.98 L477.55 458.58 Q477.55 455.58 480.55 455.58 L482.55 455.58 Q485.55 455.58 485.55 458.58 L485.55 487.98 Z" fill="#eeeefa" stroke="#161622" stroke-width="1.2"/>
<rect x="468.15" y="591.4" width="26.8" height="2.49" fill="url(#gv)" stroke="#161622" stroke-width="1.2" rx="0.3"/>
<rect x="468.46" y="593.74" width="26.18" height="2.94" fill="url(#gv)" stroke="#161622" stroke-width="1.2" rx="0.3"/>
<rect x="471.85" y="596.68" width="19.4" height="6.04" fill="url(#gv)" stroke="#161622" stroke-width="1.2" rx="0.6"/>
<rect x="469.38" y="602.73" width="24.33" height="4.3" fill="url(#gv)" stroke="#161622" stroke-width="1.2" rx="1.2"/>
<rect x="471.31" y="607.03" width="20.48" height="13.29" fill="url(#gv)" stroke="#161622" stroke-width="1.2" rx="0.6"/>
<rect x="470.46" y="620.32" width="22.18" height="20.91" fill="url(#gn)" stroke="#161622" stroke-width="1.2" rx="0.8"/>
<line x1="470.46" y1="625" x2="492.64" y2="625" stroke="#161622" stroke-width="1.08"/>
<line x1="470.46" y1="623.49" x2="492.64" y2="623.49" stroke="#c8c8d8" stroke-width="0.96"/>
<rect x="473.11" y="641.23" width="16.87" height="5.28" fill="url(#gv)" stroke="#161622" stroke-width="1.2" rx="0.6"/>
<rect x="472.76" y="646.51" width="17.59" height="8.3" fill="#a9abc0" stroke="#161622" stroke-width="1.2" rx="0.6"/>
<rect x="481.12" y="646.51" width="9.22" height="8.3" fill="#9496ac" stroke="#161622" stroke-width="1.08"/>
<rect x="473.69" y="654.82" width="15.73" height="3.55" fill="url(#gl)" stroke="#161622" stroke-width="1.2" rx="0.6"/>
<rect x="472.11" y="658.37" width="18.88" height="5.13" fill="url(#gv)" stroke="#161622" stroke-width="1.2" rx="1.2"/>
<rect x="472.97" y="663.5" width="17.16" height="6.27" fill="url(#gv)" stroke="#161622" stroke-width="1.2" rx="0.6"/>
<rect x="472.11" y="669.77" width="18.88" height="4.91" fill="url(#gv)" stroke="#161622" stroke-width="1.2" rx="1.2"/>
<rect x="472.76" y="674.68" width="17.59" height="9.59" fill="url(#gv)" stroke="#161622" stroke-width="1.2" rx="0.6"/>
<rect x="474.26" y="684.26" width="14.59" height="2.64" fill="url(#gl)" stroke="#161622" stroke-width="1.2" rx="0.6"/>
<rect x="473.83" y="686.61" width="15.44" height="2.94" fill="#0c0c10" stroke="#0c0c10" stroke-width="0.6" rx="0.8"/>
<path d="M477.55 643.27 L477.55 614.79 Q477.55 611.78 480.55 611.78 L482.55 611.78 Q485.55 611.78 485.55 614.79 L485.55 643.27 Z" fill="#eeeefa" stroke="#161622" stroke-width="1.2"/>
<rect x="90.2" y="384.5" width="433.6" height="50.7" fill="#8e90a8" stroke="#161622" stroke-width="1.2" rx="1"/>
<rect x="91" y="385.3" width="432" height="2.4" fill="#a6a8ba" stroke="none" stroke-width="0"/>
<line x1="90.8" y1="387.5" x2="523.2" y2="387.5" stroke="#4a4c5e" stroke-width="0.8"/>
<line x1="92.6" y1="386.9" x2="92.6" y2="434.2" stroke="#5a5c70" stroke-width="0.8"/>
<line x1="521.4" y1="386.9" x2="521.4" y2="434.2" stroke="#5a5c70" stroke-width="0.8"/>
<line x1="90.8" y1="432.8" x2="523.2" y2="432.8" stroke="#5a5c70" stroke-width="0.8"/>
<rect x="90.2" y="540.2" width="432.8" height="51.4" fill="#8e90a8" stroke="#161622" stroke-width="1.2" rx="1"/>
<rect x="91" y="541" width="431.2" height="2.4" fill="#a6a8ba" stroke="none" stroke-width="0"/>
<line x1="90.8" y1="543.2" x2="522.4" y2="543.2" stroke="#4a4c5e" stroke-width="0.8"/>
<line x1="92.6" y1="542.6" x2="92.6" y2="590.6" stroke="#5a5c70" stroke-width="0.8"/>
<line x1="520.6" y1="542.6" x2="520.6" y2="590.6" stroke="#5a5c70" stroke-width="0.8"/>
<line x1="90.8" y1="589.2" x2="522.4" y2="589.2" stroke="#5a5c70" stroke-width="0.8"/>
<circle cx="183.5" cy="411.3" r="13.5" fill="none" stroke="#15151f" stroke-width="1.1"/>
<text x="183.5" y="405.63" font-size="5.67" text-anchor="middle" fill="#111" font-weight="bold">IN</text>
<path d="M180.94 407.93 L186.06 407.93 L186.06 416.71 L188.36 416.71 L183.5 422.1 L178.64 416.71 L180.94 416.71 Z" fill="none" stroke="#111" stroke-width="0.9"/>
<circle cx="430.7" cy="411.3" r="13.5" fill="none" stroke="#15151f" stroke-width="1.1"/>
<text x="430.7" y="405.63" font-size="5.67" text-anchor="middle" fill="#111" font-weight="bold">IN</text>
<path d="M428.13 407.93 L433.26 407.93 L433.26 416.71 L435.56 416.71 L430.7 422.1 L425.84 416.71 L428.13 416.71 Z" fill="none" stroke="#111" stroke-width="0.9"/>
<circle cx="183.5" cy="565.4" r="13.5" fill="none" stroke="#15151f" stroke-width="1.1"/>
<text x="183.5" y="575.12" font-size="5.67" text-anchor="middle" fill="#111" font-weight="bold">OUT</text>
<path d="M180.94 568.37 L186.06 568.37 L186.06 560.25 L188.36 560.25 L183.5 555.27 L178.64 560.25 L180.94 560.25 Z" fill="none" stroke="#111" stroke-width="0.9"/>
<circle cx="430.7" cy="565.4" r="13.5" fill="none" stroke="#15151f" stroke-width="1.1"/>
<text x="430.7" y="575.12" font-size="5.67" text-anchor="middle" fill="#111" font-weight="bold">OUT</text>
<path d="M428.13 568.37 L433.26 568.37 L433.26 560.25 L435.56 560.25 L430.7 555.27 L425.84 560.25 L428.13 560.25 Z" fill="none" stroke="#111" stroke-width="0.9"/>
<rect x="267.5" y="398" width="78.5" height="27" fill="none" stroke="#15151f" stroke-width="1.4" rx="13.5"/>
<text x="285.08" y="420.2" font-size="24.03" text-anchor="middle" fill="#9c9eb6" stroke="#15151f" stroke-width="1.05" font-weight="bold" transform="translate(285.08 0) scale(1.37 1) translate(-285.08 0)">S</text>
<text x="309.5" y="420.2" font-size="24.03" text-anchor="middle" fill="#9c9eb6" stroke="#15151f" stroke-width="1.05" font-weight="bold" transform="translate(309.5 0) scale(1.45 1) translate(-309.5 0)">L</text>
<text x="330.85" y="420.2" font-size="24.03" text-anchor="middle" fill="#9c9eb6" stroke="#15151f" stroke-width="1.05" font-weight="bold" transform="translate(330.85 0) scale(1.26 1) translate(-330.85 0)">T</text>
<rect x="267.5" y="551.5" width="78.5" height="27" fill="none" stroke="#15151f" stroke-width="1.4" rx="13.5"/>
<text x="285.08" y="573.7" font-size="24.03" text-anchor="middle" fill="#9c9eb6" stroke="#15151f" stroke-width="1.05" font-weight="bold" transform="translate(285.08 0) scale(1.37 1) translate(-285.08 0)">S</text>
<text x="309.5" y="573.7" font-size="24.03" text-anchor="middle" fill="#9c9eb6" stroke="#15151f" stroke-width="1.05" font-weight="bold" transform="translate(309.5 0) scale(1.45 1) translate(-309.5 0)">L</text>
<text x="330.85" y="573.7" font-size="24.03" text-anchor="middle" fill="#9c9eb6" stroke="#15151f" stroke-width="1.05" font-weight="bold" transform="translate(330.85 0) scale(1.26 1) translate(-330.85 0)">T</text>
<line x1="40" y1="346" x2="40" y2="396" stroke="#0a0a0a" stroke-width="1.25"/>
<line x1="544.5" y1="346" x2="544.5" y2="394.5" stroke="#0a0a0a" stroke-width="1.25"/>
<line x1="40" y1="349.5" x2="544.5" y2="349.5" stroke="#0a0a0a" stroke-width="1.25"/>
<path d="M40 349.5 L50.5 348 L50.5 351 Z" fill="#000" stroke="#000" stroke-width="0.6"/>
<path d="M544.5 349.5 L534 351 L534 348 Z" fill="#000" stroke="#000" stroke-width="0.6"/>
<text x="297.2" y="344.3" font-size="17" text-anchor="middle" fill="#1c1c1c" font-weight="normal" class="d">L1</text>
<line x1="531.5" y1="470.6" x2="531.5" y2="498.5" stroke="#0a0a0a" stroke-width="0.9"/>
<line x1="543.5" y1="470.6" x2="543.5" y2="498.5" stroke="#0a0a0a" stroke-width="0.9"/>
<line x1="509.8" y1="474.6" x2="572.8" y2="474.6" stroke="#0a0a0a" stroke-width="1.25"/>
<path d="M531.5 474.6 L522.5 476.1 L522.5 473.1 Z" fill="#000" stroke="#000" stroke-width="0.6"/>
<path d="M543.5 474.6 L552.5 473.1 L552.5 476.1 Z" fill="#000" stroke="#000" stroke-width="0.6"/>
<text x="557.4" y="469" font-size="17" text-anchor="middle" fill="#1c1c1c" font-weight="normal" class="d">10</text>
<line x1="543.9" y1="497.9" x2="592.4" y2="497.9" stroke="#0a0a0a" stroke-width="1.25"/>
<line x1="543.9" y1="552.6" x2="592.4" y2="552.6" stroke="#0a0a0a" stroke-width="1.25"/>
<line x1="589.3" y1="475.8" x2="589.3" y2="575.5" stroke="#0a0a0a" stroke-width="1.25"/>
<path d="M589.3 497.9 L587.8 487.9 L590.8 487.9 Z" fill="#000" stroke="#000" stroke-width="0.6"/>
<path d="M589.3 552.6 L590.8 562.6 L587.8 562.6 Z" fill="#000" stroke="#000" stroke-width="0.6"/>
<text x="584" y="529" font-size="17" text-anchor="middle" fill="#1c1c1c" font-weight="normal" transform="rotate(-90 584 529)" class="d">54</text>
<line x1="537.3" y1="506.8" x2="537.3" y2="548" stroke="#0a0a0a" stroke-width="0.9"/>
<line x1="537.3" y1="582" x2="537.3" y2="736.5" stroke="#0a0a0a" stroke-width="1.25"/>
<line x1="76.3" y1="586" x2="76.3" y2="739" stroke="#0a0a0a" stroke-width="1.25"/>
<line x1="76.3" y1="734.7" x2="537.3" y2="734.7" stroke="#0a0a0a" stroke-width="1.25"/>
<path d="M76.3 734.7 L86.8 733.2 L86.8 736.2 Z" fill="#000" stroke="#000" stroke-width="0.6"/>
<path d="M537.3 734.7 L526.8 736.2 L526.8 733.2 Z" fill="#000" stroke="#000" stroke-width="0.6"/>
<text x="306.5" y="730.6" font-size="17" text-anchor="middle" fill="#1c1c1c" font-weight="normal" class="d">P2</text>
<line x1="123.6" y1="613" x2="123.6" y2="717.5" stroke="#0a0a0a" stroke-width="1"/>
<line x1="163.7" y1="613" x2="163.7" y2="717.5" stroke="#0a0a0a" stroke-width="1"/>
<line x1="101.7" y1="716.2" x2="185.2" y2="716.2" stroke="#0a0a0a" stroke-width="1.25"/>
<path d="M123.5 716.2 L113 717.7 L113 714.7 Z" fill="#000" stroke="#000" stroke-width="0.6"/>
<path d="M163.9 716.2 L174.4 714.7 L174.4 717.7 Z" fill="#000" stroke="#000" stroke-width="0.6"/>
<text x="140.6" y="711.4" font-size="17" text-anchor="middle" fill="#1c1c1c" font-weight="normal" class="d">P1</text>
<text x="90.2" y="692" font-size="16" text-anchor="middle" fill="#1c1c1c" font-weight="normal" class="d">C1</text>
<line x1="80" y1="694.4" x2="104" y2="694.4" stroke="#0a0a0a" stroke-width="1.25"/>
<line x1="104" y1="694.4" x2="116.2" y2="669" stroke="#0a0a0a" stroke-width="1.25"/>
<path d="M116.2 669 L115.3 674.11 L112.77 672.9 Z" fill="#000" stroke="#000" stroke-width="0.6"/>
<text x="15.5" y="652.6" font-size="16" text-anchor="middle" fill="#1c1c1c" font-weight="normal" class="d">C2</text>
<line x1="3.6" y1="655.2" x2="28.6" y2="655.2" stroke="#0a0a0a" stroke-width="1.25"/>
<line x1="28.6" y1="655.2" x2="49.6" y2="621.7" stroke="#0a0a0a" stroke-width="1.25"/>
<path d="M49.6 621.7 L47.22 628.48 L44.51 626.77 Z" fill="#000" stroke="#000" stroke-width="0.6"/>
<rect x="712.4" y="593.4" width="34.4" height="2.8" fill="url(#gv)" stroke="#161622" stroke-width="1" rx="1.2"/>
<rect x="712.4" y="597" width="34.4" height="5.4" fill="url(#gv)" stroke="#161622" stroke-width="1" rx="1.2"/>
<rect x="712.4" y="603.4" width="34.4" height="6.2" fill="url(#gv)" stroke="#161622" stroke-width="1" rx="1.2"/>
<rect x="712.4" y="610.8" width="34.4" height="8.4" fill="url(#gv)" stroke="#161622" stroke-width="1" rx="1.2"/>
<rect x="719.6" y="593" width="20" height="26.4" fill="url(#gv)" stroke="#161622" stroke-width="1" rx="0.6"/>
<line x1="719.6" y1="596.6" x2="739.6" y2="596.6" stroke="#161622" stroke-width="1.1"/>
<line x1="719.6" y1="602.9" x2="739.6" y2="602.9" stroke="#161622" stroke-width="1.1"/>
<line x1="719.6" y1="610.2" x2="739.6" y2="610.2" stroke="#161622" stroke-width="1.1"/>
<rect x="718.1" y="619.4" width="23" height="3.6" fill="url(#gv)" stroke="#161622" stroke-width="1" rx="0.6"/>
<rect x="716.2" y="623" width="26.8" height="16.4" fill="#8e90aa" stroke="#161622" stroke-width="1.2" rx="0.8"/>
<rect x="724.2" y="623" width="12" height="16.4" fill="#a8aac4" stroke="#161622" stroke-width="0.9"/>
<rect x="716.2" y="623" width="8" height="16.4" fill="#9a9cb6" stroke="#161622" stroke-width="0.9" rx="0.8"/>
<rect x="720.8" y="639.4" width="17.6" height="5.2" fill="url(#gv)" stroke="#161622" stroke-width="1" rx="0.6"/>
<rect x="719.2" y="644.6" width="20.8" height="7.4" fill="#8e90aa" stroke="#161622" stroke-width="1.1" rx="0.6"/>
<rect x="724.6" y="644.6" width="10.5" height="7.4" fill="#aeb0c8" stroke="#161622" stroke-width="0.8"/>
<rect x="721" y="652" width="17.2" height="3.2" fill="url(#gv)" stroke="#161622" stroke-width="1" rx="0.6"/>
<rect x="720" y="655.2" width="19.2" height="4.2" fill="url(#gv)" stroke="#161622" stroke-width="1" rx="1"/>
<rect x="721" y="659.4" width="17.2" height="4.6" fill="url(#gv)" stroke="#161622" stroke-width="1" rx="0.6"/>
<rect x="720" y="664" width="19.2" height="4.2" fill="url(#gv)" stroke="#161622" stroke-width="1" rx="1"/>
<rect x="721.4" y="668.2" width="16.4" height="3.8" fill="url(#gl)" stroke="#161622" stroke-width="1" rx="0.6"/>
<rect x="720.9" y="672" width="17.4" height="12.8" fill="url(#gv)" stroke="#161622" stroke-width="1" rx="0.6"/>
<rect x="722.4" y="684.6" width="14.4" height="4.7" fill="#0c0c10" stroke="#0c0c10" stroke-width="0.6" rx="0.8"/>
<path d="M686.4 644 L689.2 645.4 L704.6 613.6 L712.4 613.6 L712.4 611.8 L702.4 611.6 Z" fill="#4a4a4a" stroke="#2a2a2a" stroke-width="0.9"/>
<path d="M753.6 384.4 L805.8 384.4 L805.8 590.6 L704.7 590.6 L704.7 540.5 L753.6 540.5 Z" fill="#8e90a8" stroke="#161622" stroke-width="1.3"/>
<rect x="754.4" y="385.2" width="51.6" height="2" fill="#a6a8ba" stroke="none" stroke-width="0"/>
<line x1="755.8" y1="437.6" x2="755.8" y2="539" stroke="#4a4c5e" stroke-width="0.8"/>
<line x1="804.6" y1="386" x2="804.6" y2="480" stroke="#4a4c5e" stroke-width="0.8"/>
<line x1="705.5" y1="588" x2="806" y2="588" stroke="#4a4c5e" stroke-width="0.9"/>
<line x1="706.8" y1="542" x2="706.8" y2="588" stroke="#5a5c70" stroke-width="0.8"/>
<line x1="706" y1="542.6" x2="753" y2="542.6" stroke="#5a5c70" stroke-width="0.8"/>
<rect x="700.7" y="554.6" width="4" height="12" fill="#a8aabc" stroke="#161622" stroke-width="0.9"/>
<path d="M797.8 569 L797.8 484 Q797.8 481.2 802 481.2 L805.8 481.2 L805.8 569 Z" fill="#a8aabc" stroke="#161622" stroke-width="1"/>
<rect x="802" y="483" width="2.6" height="85" fill="#f4f4fa" stroke="none" stroke-width="0"/>
<line x1="801.4" y1="482.5" x2="801.4" y2="568.5" stroke="#3a3c4c" stroke-width="0.8"/>
<line x1="797.8" y1="568.8" x2="805.8" y2="568.8" stroke="#161622" stroke-width="1"/>
<path d="M738.4 486.8 L740 488 L752.4 462.2 L750.4 461 Z" fill="#555" stroke="#333" stroke-width="1.2"/>
<polygon points="799.8,410.7 789.8,428.02 769.8,428.02 759.8,410.7 769.8,393.38 789.8,393.38" fill="none" stroke="#15151f" stroke-width="1.1"/>
<polygon points="749.8,565.1 739.8,582.42 719.8,582.42 709.8,565.1 719.8,547.78 739.8,547.78" fill="none" stroke="#15151f" stroke-width="1.1"/>
<line x1="628" y1="384.4" x2="753.6" y2="384.4" stroke="#0a0a0a" stroke-width="1.25"/>
<line x1="628" y1="687.4" x2="718.5" y2="687.4" stroke="#0a0a0a" stroke-width="1.25"/>
<line x1="630.4" y1="384.4" x2="630.4" y2="687.4" stroke="#0a0a0a" stroke-width="1.25"/>
<path d="M630.4 384.4 L631.9 394.9 L628.9 394.9 Z" fill="#000" stroke="#000" stroke-width="0.6"/>
<path d="M630.4 687.4 L628.9 676.9 L631.9 676.9 Z" fill="#000" stroke="#000" stroke-width="0.6"/>
<text x="624.6" y="536" font-size="17" text-anchor="middle" fill="#1c1c1c" font-weight="normal" transform="rotate(-90 624.6 536)" class="d">H1</text>
<line x1="797.8" y1="464.5" x2="797.8" y2="481" stroke="#0a0a0a" stroke-width="0.9"/>
<line x1="805.8" y1="464.5" x2="805.8" y2="481" stroke="#0a0a0a" stroke-width="0.9"/>
<line x1="775.5" y1="469" x2="843" y2="469" stroke="#0a0a0a" stroke-width="1.25"/>
<path d="M797.8 469 L788.8 470.5 L788.8 467.5 Z" fill="#000" stroke="#000" stroke-width="0.6"/>
<path d="M805.8 469 L814.8 467.5 L814.8 470.5 Z" fill="#000" stroke="#000" stroke-width="0.6"/>
<text x="831.2" y="465.6" font-size="18" text-anchor="middle" fill="#1c1c1c" font-weight="normal" class="d">8</text>
<line x1="805.8" y1="481.2" x2="857.9" y2="481.2" stroke="#0a0a0a" stroke-width="1.25"/>
<line x1="799.3" y1="570.5" x2="857.9" y2="570.5" stroke="#0a0a0a" stroke-width="1.25"/>
<line x1="854.9" y1="481.2" x2="854.9" y2="570.5" stroke="#0a0a0a" stroke-width="1.25"/>
<path d="M854.9 481.2 L856.4 491.7 L853.4 491.7 Z" fill="#000" stroke="#000" stroke-width="0.6"/>
<path d="M854.9 570.5 L853.4 560 L856.4 560 Z" fill="#000" stroke="#000" stroke-width="0.6"/>
<text x="850.4" y="524.8" font-size="17" text-anchor="middle" fill="#1c1c1c" font-weight="normal" transform="rotate(-90 850.4 524.8)" class="d">86</text>
<line x1="704.7" y1="592" x2="704.7" y2="729" stroke="#0a0a0a" stroke-width="1.25"/>
<line x1="805.8" y1="592" x2="805.8" y2="729" stroke="#0a0a0a" stroke-width="1.25"/>
<line x1="704.7" y1="725.8" x2="805.8" y2="725.8" stroke="#0a0a0a" stroke-width="1.25"/>
<path d="M704.7 725.8 L715.2 724.3 L715.2 727.3 Z" fill="#000" stroke="#000" stroke-width="0.6"/>
<path d="M805.8 725.8 L795.3 727.3 L795.3 724.3 Z" fill="#000" stroke="#000" stroke-width="0.6"/>
<text x="761.2" y="720.8" font-size="18" text-anchor="middle" fill="#1c1c1c" font-weight="normal" class="d">W</text>
</svg>
</body></html>
